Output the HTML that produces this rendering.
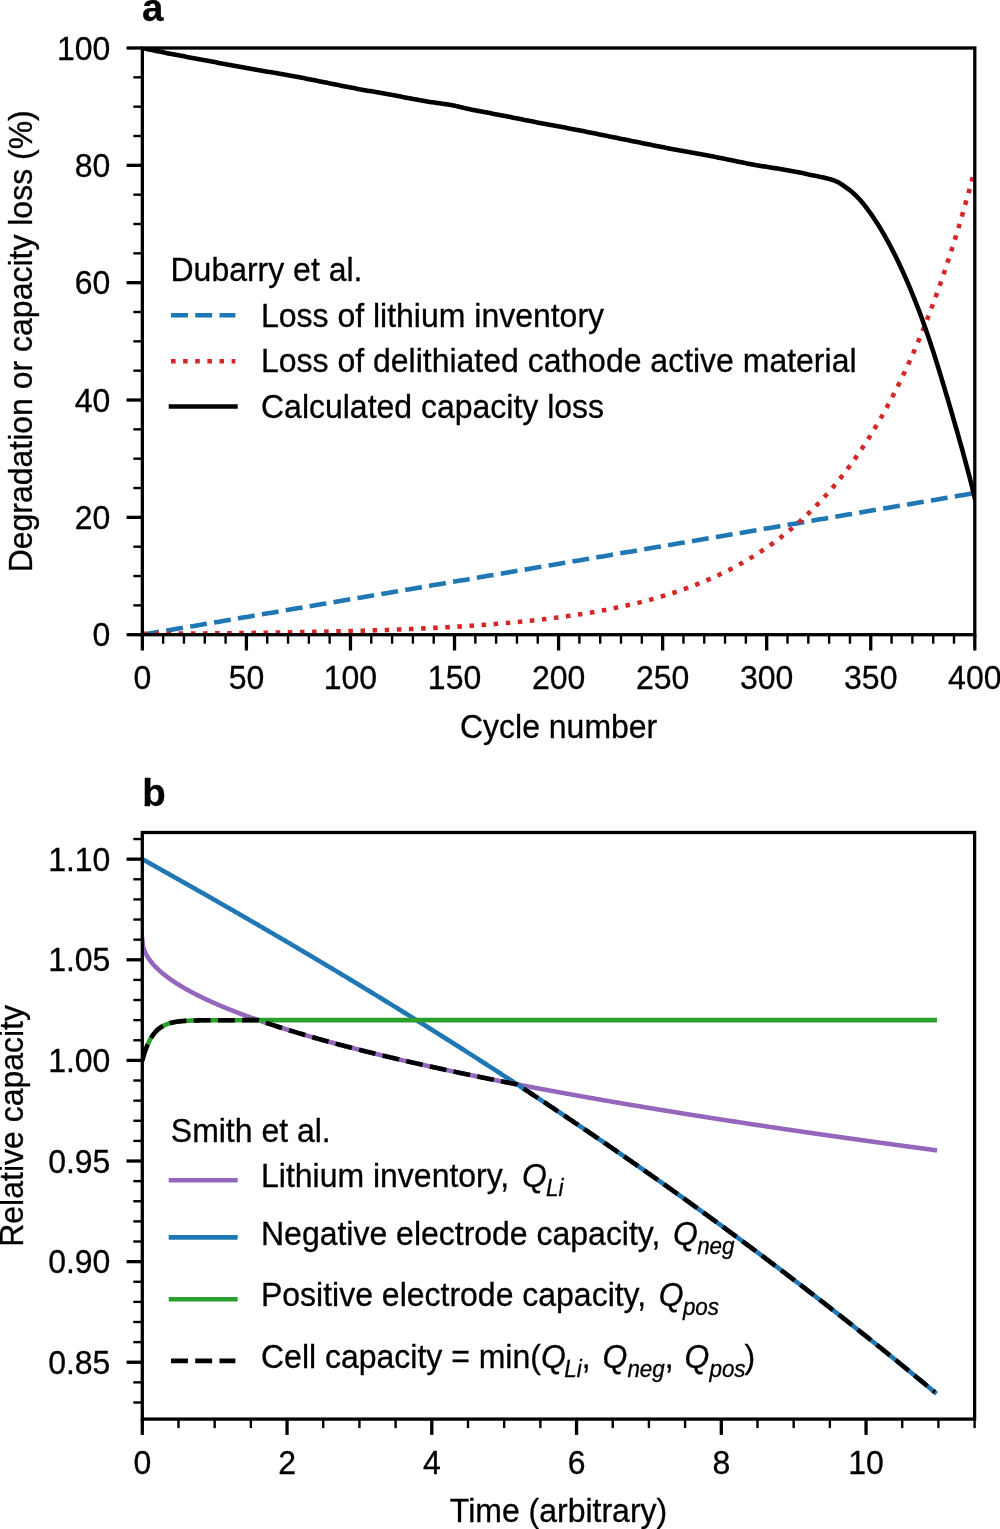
<!DOCTYPE html><html><head><meta charset="utf-8"><style>html,body{margin:0;padding:0;background:#fff;}svg{display:block;}text{font-family:"Liberation Sans",Arial,sans-serif;fill:#000;stroke:#000;stroke-width:0.3px;}</style></head><body>
<svg width="1000" height="1529" viewBox="0 0 1000 1529">
<rect width="1000" height="1529" fill="#fff"/>
<defs><clipPath id="ca"><rect x="142.35" y="48.00" width="832.45" height="586.70"/></clipPath>
<clipPath id="cb"><rect x="142.30" y="832.50" width="832.30" height="586.60"/></clipPath></defs>
<g clip-path="url(#ca)" fill="none" stroke-width="4.57">
<path d="M142.35 634.70L146.53 633.99L150.72 633.28L154.90 632.56L159.08 631.85L163.27 631.14L167.45 630.43L171.63 629.72L175.82 629.00L180.00 628.29L184.18 627.58L188.36 626.87L192.55 626.16L196.73 625.44L200.91 624.73L205.10 624.02L209.28 623.31L213.46 622.60L217.65 621.88L221.83 621.17L226.01 620.46L230.20 619.75L234.38 619.04L238.56 618.32L242.75 617.61L246.93 616.90L251.11 616.19L255.30 615.48L259.48 614.76L263.66 614.05L267.84 613.34L272.03 612.63L276.21 611.92L280.39 611.20L284.58 610.49L288.76 609.78L292.94 609.07L297.13 608.36L301.31 607.64L305.49 606.93L309.68 606.22L313.86 605.51L318.04 604.80L322.23 604.08L326.41 603.37L330.59 602.66L334.78 601.95L338.96 601.24L343.14 600.52L347.33 599.81L351.51 599.10L355.69 598.39L359.87 597.68L364.06 596.96L368.24 596.25L372.42 595.54L376.61 594.83L380.79 594.12L384.97 593.40L389.16 592.69L393.34 591.98L397.52 591.27L401.71 590.56L405.89 589.84L410.07 589.13L414.26 588.42L418.44 587.71L422.62 587.00L426.81 586.28L430.99 585.57L435.17 584.86L439.35 584.15L443.54 583.44L447.72 582.72L451.90 582.01L456.09 581.30L460.27 580.59L464.45 579.88L468.64 579.16L472.82 578.45L477.00 577.74L481.19 577.03L485.37 576.32L489.55 575.60L493.74 574.89L497.92 574.18L502.10 573.47L506.29 572.76L510.47 572.04L514.65 571.33L518.83 570.62L523.02 569.91L527.20 569.20L531.38 568.48L535.57 567.77L539.75 567.06L543.93 566.35L548.12 565.64L552.30 564.92L556.48 564.21L560.67 563.50L564.85 562.79L569.03 562.08L573.22 561.36L577.40 560.65L581.58 559.94L585.77 559.23L589.95 558.52L594.13 557.80L598.32 557.09L602.50 556.38L606.68 555.67L610.86 554.96L615.05 554.24L619.23 553.53L623.41 552.82L627.60 552.11L631.78 551.40L635.96 550.68L640.15 549.97L644.33 549.26L648.51 548.55L652.70 547.84L656.88 547.12L661.06 546.41L665.25 545.70L669.43 544.99L673.61 544.28L677.80 543.56L681.98 542.85L686.16 542.14L690.34 541.43L694.53 540.72L698.71 540.00L702.89 539.29L707.08 538.58L711.26 537.87L715.44 537.16L719.63 536.44L723.81 535.73L727.99 535.02L732.18 534.31L736.36 533.60L740.54 532.88L744.73 532.17L748.91 531.46L753.09 530.75L757.28 530.04L761.46 529.32L765.64 528.61L769.82 527.90L774.01 527.19L778.19 526.48L782.37 525.76L786.56 525.05L790.74 524.34L794.92 523.63L799.11 522.92L803.29 522.20L807.47 521.49L811.66 520.78L815.84 520.07L820.02 519.36L824.21 518.64L828.39 517.93L832.57 517.22L836.76 516.51L840.94 515.80L845.12 515.08L849.31 514.37L853.49 513.66L857.67 512.95L861.85 512.24L866.04 511.52L870.22 510.81L874.40 510.10L878.59 509.39L882.77 508.68L886.95 507.96L891.14 507.25L895.32 506.54L899.50 505.83L903.69 505.12L907.87 504.40L912.05 503.69L916.24 502.98L920.42 502.27L924.60 501.56L928.79 500.84L932.97 500.13L937.15 499.42L941.33 498.71L945.52 498.00L949.70 497.28L953.88 496.57L958.07 495.86L962.25 495.15L966.43 494.44L970.62 493.72L974.80 493.01" stroke="#1f77b4" stroke-dasharray="16.92 7.32"/>
<path d="M142.35 633.88L144.44 633.86L146.52 633.85L148.61 633.84L150.70 633.83L152.78 633.81L154.87 633.80L156.95 633.79L159.04 633.77L161.13 633.76L163.21 633.75L165.30 633.73L167.39 633.72L169.47 633.70L171.56 633.69L173.65 633.67L175.73 633.66L177.82 633.64L179.90 633.63L181.99 633.61L184.08 633.60L186.16 633.58L188.25 633.56L190.34 633.54L192.42 633.53L194.51 633.51L196.59 633.49L198.68 633.47L200.77 633.46L202.85 633.44L204.94 633.42L207.03 633.40L209.11 633.38L211.20 633.36L213.29 633.34L215.37 633.32L217.46 633.30L219.54 633.28L221.63 633.26L223.72 633.23L225.80 633.21L227.89 633.19L229.98 633.17L232.06 633.14L234.15 633.12L236.24 633.10L238.32 633.07L240.41 633.05L242.49 633.02L244.58 633.00L246.67 632.97L248.75 632.95L250.84 632.92L252.93 632.89L255.01 632.87L257.10 632.84L259.19 632.81L261.27 632.78L263.36 632.75L265.44 632.72L267.53 632.69L269.62 632.66L271.70 632.63L273.79 632.60L275.88 632.57L277.96 632.54L280.05 632.50L282.13 632.47L284.22 632.44L286.31 632.40L288.39 632.37L290.48 632.33L292.57 632.30L294.65 632.26L296.74 632.22L298.83 632.18L300.91 632.15L303.00 632.11L305.08 632.07L307.17 632.03L309.26 631.99L311.34 631.95L313.43 631.90L315.52 631.86L317.60 631.82L319.69 631.77L321.78 631.73L323.86 631.68L325.95 631.64L328.03 631.59L330.12 631.54L332.21 631.49L334.29 631.44L336.38 631.39L338.47 631.34L340.55 631.29L342.64 631.24L344.73 631.19L346.81 631.13L348.90 631.08L350.98 631.02L353.07 630.97L355.16 630.91L357.24 630.85L359.33 630.79L361.42 630.73L363.50 630.67L365.59 630.61L367.67 630.54L369.76 630.48L371.85 630.41L373.93 630.35L376.02 630.28L378.11 630.21L380.19 630.14L382.28 630.07L384.37 630.00L386.45 629.93L388.54 629.85L390.62 629.78L392.71 629.70L394.80 629.62L396.88 629.55L398.97 629.47L401.06 629.38L403.14 629.30L405.23 629.22L407.32 629.13L409.40 629.05L411.49 628.96L413.57 628.87L415.66 628.78L417.75 628.69L419.83 628.59L421.92 628.50L424.01 628.40L426.09 628.30L428.18 628.20L430.27 628.10L432.35 628.00L434.44 627.89L436.52 627.79L438.61 627.68L440.70 627.57L442.78 627.46L444.87 627.34L446.96 627.23L449.04 627.11L451.13 626.99L453.21 626.87L455.30 626.75L457.39 626.62L459.47 626.49L461.56 626.37L463.65 626.23L465.73 626.10L467.82 625.97L469.91 625.83L471.99 625.69L474.08 625.55L476.16 625.40L478.25 625.26L480.34 625.11L482.42 624.96L484.51 624.80L486.60 624.65L488.68 624.49L490.77 624.33L492.86 624.16L494.94 623.99L497.03 623.83L499.11 623.65L501.20 623.48L503.29 623.30L505.37 623.12L507.46 622.94L509.55 622.75L511.63 622.56L513.72 622.37L515.81 622.17L517.89 621.97L519.98 621.77L522.06 621.56L524.15 621.36L526.24 621.14L528.32 620.93L530.41 620.71L532.50 620.49L534.58 620.26L536.67 620.03L538.75 619.79L540.84 619.56L542.93 619.32L545.01 619.07L547.10 618.82L549.19 618.57L551.27 618.31L553.36 618.05L555.45 617.78L557.53 617.51L559.62 617.23L561.70 616.95L563.79 616.67L565.88 616.38L567.96 616.09L570.05 615.79L572.14 615.48L574.22 615.18L576.31 614.86L578.40 614.54L580.48 614.22L582.57 613.89L584.65 613.56L586.74 613.22L588.83 612.87L590.91 612.52L593.00 612.16L595.09 611.80L597.17 611.43L599.26 611.05L601.34 610.67L603.43 610.28L605.52 609.89L607.60 609.49L609.69 609.08L611.78 608.67L613.86 608.25L615.95 607.82L618.04 607.38L620.12 606.94L622.21 606.49L624.29 606.04L626.38 605.57L628.47 605.10L630.55 604.62L632.64 604.13L634.73 603.63L636.81 603.13L638.90 602.62L640.99 602.10L643.07 601.57L645.16 601.03L647.24 600.48L649.33 599.92L651.42 599.36L653.50 598.78L655.59 598.19L657.68 597.60L659.76 596.99L661.85 596.38L663.94 595.75L666.02 595.12L668.11 594.47L670.19 593.81L672.28 593.15L674.37 592.47L676.45 591.78L678.54 591.07L680.63 590.36L682.71 589.63L684.80 588.89L686.88 588.14L688.97 587.38L691.06 586.60L693.14 585.82L695.23 585.01L697.32 584.20L699.40 583.37L701.49 582.52L703.58 581.67L705.66 580.79L707.75 579.91L709.83 579.01L711.92 578.09L714.01 577.16L716.09 576.21L718.18 575.25L720.27 574.27L722.35 573.27L724.44 572.25L726.53 571.22L728.61 570.18L730.70 569.11L732.78 568.03L734.87 566.92L736.96 565.80L739.04 564.66L741.13 563.50L743.22 562.33L745.30 561.13L747.39 559.91L749.48 558.67L751.56 557.41L753.65 556.13L755.73 554.82L757.82 553.50L759.91 552.15L761.99 550.78L764.08 549.38L766.17 547.96L768.25 546.52L770.34 545.05L772.42 543.56L774.51 542.05L776.60 540.50L778.68 538.93L780.77 537.34L782.86 535.71L784.94 534.06L787.03 532.38L789.12 530.67L791.20 528.94L793.29 527.17L795.37 525.37L797.46 523.55L799.55 521.69L801.63 519.80L803.72 517.87L805.81 515.92L807.89 513.93L809.98 511.91L812.07 509.85L814.15 507.75L816.24 505.62L818.32 503.46L820.41 501.26L822.50 499.02L824.58 496.74L826.67 494.42L828.76 492.06L830.84 489.66L832.93 487.22L835.02 484.74L837.10 482.21L839.19 479.65L841.27 477.03L843.36 474.38L845.45 471.67L847.53 468.92L849.62 466.13L851.71 463.28L853.79 460.39L855.88 457.44L857.96 454.45L860.05 451.40L862.14 448.30L864.22 445.15L866.31 441.94L868.40 438.68L870.48 435.36L872.57 431.98L874.66 428.55L876.74 425.05L878.83 421.50L880.91 417.88L883.00 414.20L885.09 410.46L887.17 406.65L889.26 402.77L891.35 398.83L893.43 394.82L895.52 390.74L897.61 386.59L899.69 382.37L901.78 378.07L903.86 373.70L905.95 369.25L908.04 364.72L910.12 360.12L912.21 355.44L914.30 350.67L916.38 345.82L918.47 340.89L920.56 335.87L922.64 330.76L924.73 325.57L926.81 320.28L928.90 314.90L930.99 309.43L933.07 303.86L935.16 298.19L937.25 292.43L939.33 286.56L941.42 280.59L943.50 274.52L945.59 268.34L947.68 262.05L949.76 255.65L951.85 249.14L953.94 242.52L956.02 235.77L958.11 228.91L960.20 221.93L962.28 214.83L964.37 207.60L966.45 200.25L968.54 192.77L970.63 185.15L972.71 177.40L974.80 169.51" stroke="#d62728" stroke-dasharray="4.57 7.55"/>
<path d="M142.35 48.00L143.74 48.30L145.13 48.60L146.52 48.89L147.91 49.19L149.30 49.48L150.69 49.77L152.08 50.07L153.47 50.36L154.86 50.64L156.25 50.93L157.64 51.22L159.03 51.50L160.42 51.78L161.81 52.06L163.20 52.34L164.59 52.62L165.98 52.89L167.37 53.16L168.75 53.44L170.14 53.71L171.53 53.98L172.92 54.24L174.31 54.51L175.70 54.78L177.09 55.04L178.48 55.31L179.87 55.57L181.26 55.84L182.65 56.10L184.04 56.36L185.43 56.62L186.82 56.89L188.21 57.15L189.60 57.41L190.99 57.67L192.38 57.94L193.77 58.20L195.16 58.46L196.55 58.72L197.94 58.99L199.33 59.25L200.72 59.51L202.11 59.77L203.50 60.03L204.89 60.29L206.28 60.55L207.67 60.81L209.06 61.07L210.45 61.33L211.84 61.59L213.23 61.85L214.62 62.11L216.01 62.37L217.40 62.63L218.79 62.89L220.18 63.15L221.56 63.40L222.95 63.66L224.34 63.92L225.73 64.18L227.12 64.43L228.51 64.69L229.90 64.94L231.29 65.20L232.68 65.45L234.07 65.71L235.46 65.96L236.85 66.22L238.24 66.47L239.63 66.72L241.02 66.98L242.41 67.23L243.80 67.48L245.19 67.73L246.58 67.98L247.97 68.23L249.36 68.48L250.75 68.73L252.14 68.98L253.53 69.23L254.92 69.47L256.31 69.72L257.70 69.96L259.09 70.20L260.48 70.44L261.87 70.68L263.26 70.92L264.65 71.16L266.04 71.40L267.43 71.64L268.82 71.88L270.21 72.12L271.60 72.35L272.98 72.59L274.37 72.83L275.76 73.07L277.15 73.31L278.54 73.55L279.93 73.79L281.32 74.03L282.71 74.27L284.10 74.52L285.49 74.76L286.88 75.01L288.27 75.26L289.66 75.51L291.05 75.76L292.44 76.01L293.83 76.27L295.22 76.53L296.61 76.79L298.00 77.05L299.39 77.31L300.78 77.58L302.17 77.84L303.56 78.11L304.95 78.38L306.34 78.65L307.73 78.93L309.12 79.20L310.51 79.48L311.90 79.75L313.29 80.03L314.68 80.31L316.07 80.59L317.46 80.87L318.85 81.15L320.24 81.43L321.63 81.71L323.02 82.00L324.41 82.28L325.79 82.56L327.18 82.84L328.57 83.13L329.96 83.41L331.35 83.69L332.74 83.97L334.13 84.25L335.52 84.54L336.91 84.82L338.30 85.10L339.69 85.37L341.08 85.65L342.47 85.93L343.86 86.21L345.25 86.48L346.64 86.75L348.03 87.03L349.42 87.30L350.81 87.57L352.20 87.83L353.59 88.10L354.98 88.36L356.37 88.63L357.76 88.89L359.15 89.14L360.54 89.40L361.93 89.65L363.32 89.90L364.71 90.15L366.10 90.39L367.49 90.64L368.88 90.88L370.27 91.12L371.66 91.36L373.05 91.60L374.44 91.83L375.83 92.07L377.21 92.31L378.60 92.55L379.99 92.79L381.38 93.03L382.77 93.27L384.16 93.51L385.55 93.76L386.94 94.00L388.33 94.25L389.72 94.50L391.11 94.76L392.50 95.02L393.89 95.28L395.28 95.54L396.67 95.81L398.06 96.07L399.45 96.34L400.84 96.61L402.23 96.88L403.62 97.15L405.01 97.42L406.40 97.69L407.79 97.96L409.18 98.23L410.57 98.50L411.96 98.76L413.35 99.03L414.74 99.29L416.13 99.55L417.52 99.81L418.91 100.06L420.30 100.31L421.69 100.56L423.08 100.80L424.47 101.04L425.86 101.28L427.25 101.50L428.63 101.72L430.02 101.94L431.41 102.14L432.80 102.34L434.19 102.54L435.58 102.74L436.97 102.93L438.36 103.12L439.75 103.32L441.14 103.51L442.53 103.71L443.92 103.92L445.31 104.12L446.70 104.34L448.09 104.56L449.48 104.79L450.87 105.03L452.26 105.27L453.65 105.54L455.04 105.82L456.43 106.13L457.82 106.44L459.21 106.77L460.60 107.10L461.99 107.44L463.38 107.77L464.77 108.11L466.16 108.44L467.55 108.76L468.94 109.07L470.33 109.37L471.72 109.66L473.11 109.94L474.50 110.22L475.89 110.49L477.28 110.76L478.67 111.03L480.06 111.30L481.44 111.56L482.83 111.83L484.22 112.09L485.61 112.34L487.00 112.60L488.39 112.86L489.78 113.11L491.17 113.37L492.56 113.63L493.95 113.88L495.34 114.14L496.73 114.40L498.12 114.66L499.51 114.93L500.90 115.19L502.29 115.46L503.68 115.73L505.07 116.01L506.46 116.28L507.85 116.56L509.24 116.83L510.63 117.11L512.02 117.39L513.41 117.67L514.80 117.95L516.19 118.23L517.58 118.51L518.97 118.80L520.36 119.08L521.75 119.36L523.14 119.64L524.53 119.92L525.92 120.20L527.31 120.48L528.70 120.76L530.09 121.04L531.48 121.31L532.86 121.59L534.25 121.86L535.64 122.13L537.03 122.40L538.42 122.67L539.81 122.94L541.20 123.20L542.59 123.47L543.98 123.73L545.37 123.99L546.76 124.25L548.15 124.51L549.54 124.77L550.93 125.03L552.32 125.29L553.71 125.55L555.10 125.81L556.49 126.07L557.88 126.32L559.27 126.58L560.66 126.84L562.05 127.10L563.44 127.36L564.83 127.62L566.22 127.87L567.61 128.13L569.00 128.40L570.39 128.66L571.78 128.92L573.17 129.18L574.56 129.45L575.95 129.72L577.34 129.98L578.73 130.25L580.12 130.52L581.51 130.79L582.90 131.07L584.29 131.34L585.67 131.62L587.06 131.89L588.45 132.17L589.84 132.45L591.23 132.73L592.62 133.01L594.01 133.29L595.40 133.57L596.79 133.86L598.18 134.14L599.57 134.42L600.96 134.71L602.35 134.99L603.74 135.27L605.13 135.56L606.52 135.84L607.91 136.13L609.30 136.41L610.69 136.70L612.08 136.98L613.47 137.26L614.86 137.55L616.25 137.83L617.64 138.11L619.03 138.40L620.42 138.68L621.81 138.96L623.20 139.24L624.59 139.52L625.98 139.80L627.37 140.08L628.76 140.36L630.15 140.64L631.54 140.92L632.93 141.20L634.32 141.49L635.71 141.77L637.09 142.05L638.48 142.33L639.87 142.61L641.26 142.89L642.65 143.18L644.04 143.46L645.43 143.74L646.82 144.02L648.21 144.30L649.60 144.58L650.99 144.86L652.38 145.13L653.77 145.41L655.16 145.69L656.55 145.96L657.94 146.24L659.33 146.51L660.72 146.79L662.11 147.06L663.50 147.33L664.89 147.60L666.28 147.87L667.67 148.14L669.06 148.40L670.45 148.67L671.84 148.93L673.23 149.19L674.62 149.45L676.01 149.71L677.40 149.96L678.79 150.22L680.18 150.47L681.57 150.72L682.96 150.98L684.35 151.23L685.74 151.48L687.13 151.73L688.52 151.98L689.90 152.23L691.29 152.48L692.68 152.73L694.07 152.98L695.46 153.24L696.85 153.49L698.24 153.74L699.63 153.99L701.02 154.25L702.41 154.50L703.80 154.76L705.19 155.02L706.58 155.28L707.97 155.54L709.36 155.80L710.75 156.06L712.14 156.33L713.53 156.60L714.92 156.87L716.31 157.14L717.70 157.42L719.09 157.70L720.48 157.98L721.87 158.26L723.26 158.55L724.65 158.83L726.04 159.12L727.43 159.41L728.82 159.70L730.21 159.99L731.60 160.28L732.99 160.57L734.38 160.86L735.77 161.14L737.16 161.43L738.55 161.72L739.94 162.00L741.32 162.28L742.71 162.57L744.10 162.84L745.49 163.12L746.88 163.39L748.27 163.66L749.66 163.93L751.05 164.19L752.44 164.45L753.83 164.71L755.22 164.96L756.61 165.21L758.00 165.45L759.39 165.69L760.78 165.92L762.17 166.15L763.56 166.37L764.95 166.59L766.34 166.81L767.73 167.03L769.12 167.25L770.51 167.47L771.90 167.69L773.29 167.91L774.68 168.13L776.07 168.35L777.46 168.58L778.85 168.81L780.24 169.04L781.63 169.27L783.02 169.50L784.41 169.73L785.80 169.96L787.19 170.19L788.58 170.43L789.97 170.66L791.36 170.90L792.74 171.14L794.13 171.39L795.52 171.64L796.91 171.90L798.30 172.16L799.69 172.44L801.08 172.73L802.47 173.04L803.86 173.36L805.25 173.70L806.64 174.03L808.03 174.36L809.42 174.67L810.81 174.97L812.20 175.25L813.59 175.52L814.98 175.79L816.37 176.06L817.76 176.33L819.15 176.62L820.54 176.92L821.93 177.22L823.32 177.52L824.71 177.84L826.10 178.16L827.49 178.51L828.88 178.88L830.27 179.28L831.66 179.71L833.05 180.17L834.44 180.68L835.83 181.23L837.22 181.83L838.61 182.51L840.00 183.31L841.39 184.23L842.78 185.21L844.17 186.21L845.55 187.19L846.94 188.16L848.33 189.15L849.72 190.18L851.11 191.27L852.50 192.43L853.89 193.67L855.28 194.98L856.67 196.35L858.06 197.79L859.45 199.28L860.84 200.83L862.23 202.46L863.62 204.17L865.01 205.93L866.40 207.75L867.79 209.61L869.18 211.51L870.57 213.44L871.96 215.42L873.35 217.45L874.74 219.53L876.13 221.66L877.52 223.84L878.91 226.06L880.30 228.31L881.69 230.62L883.08 232.99L884.47 235.40L885.86 237.87L887.25 240.37L888.64 242.92L890.03 245.50L891.42 248.13L892.81 250.83L894.20 253.57L895.59 256.37L896.97 259.20L898.36 262.09L899.75 265.02L901.14 268.00L902.53 271.03L903.92 274.10L905.31 277.23L906.70 280.41L908.09 283.63L909.48 286.91L910.87 290.23L912.26 293.61L913.65 297.04L915.04 300.53L916.43 304.08L917.82 307.68L919.21 311.34L920.60 315.06L921.99 318.83L923.38 322.66L924.77 326.56L926.16 330.52L927.55 334.54L928.94 338.63L930.33 342.78L931.72 347.00L933.11 351.27L934.50 355.61L935.89 360.02L937.28 364.48L938.67 368.98L940.06 373.53L941.45 378.11L942.84 382.73L944.23 387.38L945.62 392.06L947.01 396.76L948.40 401.47L949.78 406.20L951.17 410.94L952.56 415.72L953.95 420.52L955.34 425.34L956.73 430.19L958.12 435.08L959.51 440.01L960.90 444.97L962.29 449.98L963.68 455.04L965.07 460.16L966.46 465.35L967.85 470.59L969.24 475.90L970.63 481.29L972.02 486.77L973.41 492.32L974.80 497.97" stroke="#000" stroke-linejoin="round" stroke-linecap="square"/>
</g>
<g clip-path="url(#cb)" fill="none" stroke-width="4.57" stroke-linecap="square" stroke-linejoin="round">
<path d="M142.30 939.66L143.09 946.32L143.89 949.07L144.68 951.19L145.47 952.97L146.27 954.54L147.06 955.97L147.85 957.27L148.65 958.49L149.44 959.63L150.23 960.71L151.03 961.74L151.82 962.72L152.61 963.66L153.41 964.57L154.20 965.44L154.99 966.29L155.79 967.11L156.58 967.90L157.37 968.68L158.17 969.43L158.96 970.17L159.75 970.88L160.55 971.59L161.34 972.27L162.13 972.95L162.93 973.60L163.72 974.25L164.51 974.89L165.31 975.51L166.10 976.12L166.89 976.73L167.69 977.32L168.48 977.90L169.27 978.48L170.07 979.04L170.86 979.60L171.65 980.15L172.44 980.70L173.24 981.23L174.03 981.76L174.82 982.29L175.62 982.80L176.41 983.31L177.20 983.82L178.00 984.32L178.79 984.81L179.58 985.30L180.38 985.78L181.17 986.26L181.96 986.73L182.76 987.20L183.55 987.67L184.34 988.13L185.14 988.58L185.93 989.03L186.72 989.48L187.52 989.92L188.31 990.36L189.10 990.80L189.90 991.23L190.69 991.65L191.48 992.08L192.28 992.50L193.07 992.92L193.86 993.33L194.66 993.74L195.45 994.15L196.24 994.56L197.04 994.96L197.83 995.36L198.62 995.76L199.42 996.15L200.21 996.54L201.00 996.93L201.80 997.31L202.59 997.70L203.38 998.08L204.18 998.46L204.97 998.83L205.76 999.20L206.56 999.58L207.35 999.94L208.14 1000.31L208.94 1000.68L209.73 1001.04L210.52 1001.40L211.32 1001.76L212.11 1002.11L212.90 1002.46L213.70 1002.82L214.49 1003.17L215.28 1003.51L216.08 1003.86L216.87 1004.21L217.66 1004.55L218.46 1004.89L219.25 1005.23L220.04 1005.56L220.84 1005.90L221.63 1006.23L222.42 1006.57L223.22 1006.90L224.01 1007.22L224.80 1007.55L225.60 1007.88L226.39 1008.20L227.18 1008.52L227.98 1008.84L228.77 1009.16L229.56 1009.48L230.35 1009.80L231.15 1010.11L231.94 1010.43L232.73 1010.74L233.53 1011.05L234.32 1011.36L235.11 1011.67L235.91 1011.98L236.70 1012.28L237.49 1012.59L238.29 1012.89L239.08 1013.19L239.87 1013.49L240.67 1013.79L241.46 1014.09L242.25 1014.39L243.05 1014.68L243.84 1014.98L244.63 1015.27L245.43 1015.57L246.22 1015.86L247.01 1016.15L247.81 1016.44L248.60 1016.72L249.39 1017.01L250.19 1017.30L250.98 1017.58L251.77 1017.87L252.57 1018.15L253.36 1018.43L254.15 1018.71L254.95 1018.99L255.74 1019.27L256.53 1019.55L257.33 1019.83L258.12 1020.10L258.91 1020.38L259.71 1020.65L260.50 1020.92L261.29 1021.20L262.09 1021.47L262.88 1021.74L263.67 1022.01L264.47 1022.28L265.26 1022.54L266.05 1022.81L266.85 1023.08L267.64 1023.34L268.43 1023.61L269.23 1023.87L270.02 1024.13L270.81 1024.39L271.61 1024.66L272.40 1024.92L273.19 1025.18L273.99 1025.43L274.78 1025.69L275.57 1025.95L276.37 1026.21L277.16 1026.46L277.95 1026.72L278.75 1026.97L279.54 1027.22L280.33 1027.48L281.13 1027.73L281.92 1027.98L282.71 1028.23L283.51 1028.48L284.30 1028.73L285.09 1028.98L285.89 1029.23L286.68 1029.47L287.47 1029.72L288.26 1029.97L289.06 1030.21L289.85 1030.45L290.64 1030.70L291.44 1030.94L292.23 1031.18L293.02 1031.43L293.82 1031.67L294.61 1031.91L295.40 1032.15L296.20 1032.39L296.99 1032.63L297.78 1032.86L298.58 1033.10L299.37 1033.34L300.16 1033.57L300.96 1033.81L301.75 1034.04L302.54 1034.28L303.34 1034.51L304.13 1034.75L304.92 1034.98L305.72 1035.21L306.51 1035.44L307.30 1035.67L308.10 1035.90L308.89 1036.13L309.68 1036.36L310.48 1036.59L311.27 1036.82L312.06 1037.05L312.86 1037.28L313.65 1037.50L314.44 1037.73L315.24 1037.96L316.03 1038.18L316.82 1038.41L317.62 1038.63L318.41 1038.85L319.20 1039.08L320.00 1039.30L320.79 1039.52L321.58 1039.74L322.38 1039.96L323.17 1040.18L323.96 1040.40L324.76 1040.62L325.55 1040.84L326.34 1041.06L327.14 1041.28L327.93 1041.50L328.72 1041.72L329.52 1041.93L330.31 1042.15L331.10 1042.37L331.90 1042.58L332.69 1042.80L333.48 1043.01L334.28 1043.22L335.07 1043.44L335.86 1043.65L336.66 1043.86L337.45 1044.08L338.24 1044.29L339.04 1044.50L339.83 1044.71L340.62 1044.92L341.42 1045.13L342.21 1045.34L343.00 1045.55L343.80 1045.76L344.59 1045.97L345.38 1046.18L346.17 1046.39L346.97 1046.59L347.76 1046.80L348.55 1047.01L349.35 1047.21L350.14 1047.42L350.93 1047.63L351.73 1047.83L352.52 1048.03L353.31 1048.24L354.11 1048.44L354.90 1048.65L355.69 1048.85L356.49 1049.05L357.28 1049.25L358.07 1049.46L358.87 1049.66L359.66 1049.86L360.45 1050.06L361.25 1050.26L362.04 1050.46L362.83 1050.66L363.63 1050.86L364.42 1051.06L365.21 1051.26L366.01 1051.46L366.80 1051.66L367.59 1051.85L368.39 1052.05L369.18 1052.25L369.97 1052.44L370.77 1052.64L371.56 1052.84L372.35 1053.03L373.15 1053.23L373.94 1053.42L374.73 1053.62L375.53 1053.81L376.32 1054.00L377.11 1054.20L377.91 1054.39L378.70 1054.58L379.49 1054.78L380.29 1054.97L381.08 1055.16L381.87 1055.35L382.67 1055.55L383.46 1055.74L384.25 1055.93L385.05 1056.12L385.84 1056.31L386.63 1056.50L387.43 1056.69L388.22 1056.88L389.01 1057.06L389.81 1057.25L390.60 1057.44L391.39 1057.63L392.19 1057.82L392.98 1058.00L393.77 1058.19L394.57 1058.38L395.36 1058.57L396.15 1058.75L396.95 1058.94L397.74 1059.12L398.53 1059.31L399.33 1059.49L400.12 1059.68L400.91 1059.86L401.71 1060.05L402.50 1060.23L403.29 1060.41L404.08 1060.60L404.88 1060.78L405.67 1060.96L406.46 1061.15L407.26 1061.33L408.05 1061.51L408.84 1061.69L409.64 1061.87L410.43 1062.06L411.22 1062.24L412.02 1062.42L412.81 1062.60L413.60 1062.78L414.40 1062.96L415.19 1063.14L415.98 1063.32L416.78 1063.50L417.57 1063.67L418.36 1063.85L419.16 1064.03L419.95 1064.21L420.74 1064.39L421.54 1064.56L422.33 1064.74L423.12 1064.92L423.92 1065.10L424.71 1065.27L425.50 1065.45L426.30 1065.62L427.09 1065.80L427.88 1065.98L428.68 1066.15L429.47 1066.33L430.26 1066.50L431.06 1066.68L431.85 1066.85L432.64 1067.02L433.44 1067.20L434.23 1067.37L435.02 1067.55L435.82 1067.72L436.61 1067.89L437.40 1068.06L438.20 1068.24L438.99 1068.41L439.78 1068.58L440.58 1068.75L441.37 1068.92L442.16 1069.10L442.96 1069.27L443.75 1069.44L444.54 1069.61L445.34 1069.78L446.13 1069.95L446.92 1070.12L447.72 1070.29L448.51 1070.46L449.30 1070.63L450.10 1070.80L450.89 1070.97L451.68 1071.13L452.48 1071.30L453.27 1071.47L454.06 1071.64L454.86 1071.81L455.65 1071.97L456.44 1072.14L457.24 1072.31L458.03 1072.48L458.82 1072.64L459.62 1072.81L460.41 1072.98L461.20 1073.14L461.99 1073.31L462.79 1073.47L463.58 1073.64L464.37 1073.80L465.17 1073.97L465.96 1074.13L466.75 1074.30L467.55 1074.46L468.34 1074.63L469.13 1074.79L469.93 1074.96L470.72 1075.12L471.51 1075.28L472.31 1075.45L473.10 1075.61L473.89 1075.77L474.69 1075.93L475.48 1076.10L476.27 1076.26L477.07 1076.42L477.86 1076.58L478.65 1076.75L479.45 1076.91L480.24 1077.07L481.03 1077.23L481.83 1077.39L482.62 1077.55L483.41 1077.71L484.21 1077.87L485.00 1078.03L485.79 1078.19L486.59 1078.35L487.38 1078.51L488.17 1078.67L488.97 1078.83L489.76 1078.99L490.55 1079.15L491.35 1079.31L492.14 1079.47L492.93 1079.62L493.73 1079.78L494.52 1079.94L495.31 1080.10L496.11 1080.26L496.90 1080.41L497.69 1080.57L498.49 1080.73L499.28 1080.89L500.07 1081.04L500.87 1081.20L501.66 1081.36L502.45 1081.51L503.25 1081.67L504.04 1081.82L504.83 1081.98L505.63 1082.14L506.42 1082.29L507.21 1082.45L508.01 1082.60L508.80 1082.76L509.59 1082.91L510.39 1083.07L511.18 1083.22L511.97 1083.37L512.77 1083.53L513.56 1083.68L514.35 1083.84L515.15 1083.99L515.94 1084.14L516.73 1084.30L517.53 1084.45L518.32 1084.60L519.11 1084.76L519.90 1084.91L520.70 1085.06L521.49 1085.21L522.28 1085.37L523.08 1085.52L523.87 1085.67L524.66 1085.82L525.46 1085.97L526.25 1086.12L527.04 1086.28L527.84 1086.43L528.63 1086.58L529.42 1086.73L530.22 1086.88L531.01 1087.03L531.80 1087.18L532.60 1087.33L533.39 1087.48L534.18 1087.63L534.98 1087.78L535.77 1087.93L536.56 1088.08L537.36 1088.23L538.15 1088.38L538.94 1088.53L539.74 1088.67L540.53 1088.82L541.32 1088.97L542.12 1089.12L542.91 1089.27L543.70 1089.42L544.50 1089.56L545.29 1089.71L546.08 1089.86L546.88 1090.01L547.67 1090.15L548.46 1090.30L549.26 1090.45L550.05 1090.59L550.84 1090.74L551.64 1090.89L552.43 1091.03L553.22 1091.18L554.02 1091.33L554.81 1091.47L555.60 1091.62L556.40 1091.76L557.19 1091.91L557.98 1092.06L558.78 1092.20L559.57 1092.35L560.36 1092.49L561.16 1092.64L561.95 1092.78L562.74 1092.93L563.54 1093.07L564.33 1093.22L565.12 1093.36L565.92 1093.50L566.71 1093.65L567.50 1093.79L568.30 1093.93L569.09 1094.08L569.88 1094.22L570.68 1094.37L571.47 1094.51L572.26 1094.65L573.06 1094.79L573.85 1094.94L574.64 1095.08L575.44 1095.22L576.23 1095.36L577.02 1095.51L577.81 1095.65L578.61 1095.79L579.40 1095.93L580.19 1096.07L580.99 1096.22L581.78 1096.36L582.57 1096.50L583.37 1096.64L584.16 1096.78L584.95 1096.92L585.75 1097.06L586.54 1097.20L587.33 1097.34L588.13 1097.49L588.92 1097.63L589.71 1097.77L590.51 1097.91L591.30 1098.05L592.09 1098.19L592.89 1098.33L593.68 1098.47L594.47 1098.60L595.27 1098.74L596.06 1098.88L596.85 1099.02L597.65 1099.16L598.44 1099.30L599.23 1099.44L600.03 1099.58L600.82 1099.72L601.61 1099.85L602.41 1099.99L603.20 1100.13L603.99 1100.27L604.79 1100.41L605.58 1100.54L606.37 1100.68L607.17 1100.82L607.96 1100.96L608.75 1101.09L609.55 1101.23L610.34 1101.37L611.13 1101.51L611.93 1101.64L612.72 1101.78L613.51 1101.92L614.31 1102.05L615.10 1102.19L615.89 1102.33L616.69 1102.46L617.48 1102.60L618.27 1102.73L619.07 1102.87L619.86 1103.01L620.65 1103.14L621.45 1103.28L622.24 1103.41L623.03 1103.55L623.83 1103.68L624.62 1103.82L625.41 1103.95L626.21 1104.09L627.00 1104.22L627.79 1104.36L628.59 1104.49L629.38 1104.63L630.17 1104.76L630.97 1104.89L631.76 1105.03L632.55 1105.16L633.35 1105.30L634.14 1105.43L634.93 1105.56L635.72 1105.70L636.52 1105.83L637.31 1105.96L638.10 1106.10L638.90 1106.23L639.69 1106.36L640.48 1106.50L641.28 1106.63L642.07 1106.76L642.86 1106.89L643.66 1107.03L644.45 1107.16L645.24 1107.29L646.04 1107.42L646.83 1107.55L647.62 1107.69L648.42 1107.82L649.21 1107.95L650.00 1108.08L650.80 1108.21L651.59 1108.34L652.38 1108.48L653.18 1108.61L653.97 1108.74L654.76 1108.87L655.56 1109.00L656.35 1109.13L657.14 1109.26L657.94 1109.39L658.73 1109.52L659.52 1109.65L660.32 1109.78L661.11 1109.91L661.90 1110.04L662.70 1110.17L663.49 1110.30L664.28 1110.43L665.08 1110.56L665.87 1110.69L666.66 1110.82L667.46 1110.95L668.25 1111.08L669.04 1111.21L669.84 1111.34L670.63 1111.47L671.42 1111.60L672.22 1111.73L673.01 1111.86L673.80 1111.98L674.60 1112.11L675.39 1112.24L676.18 1112.37L676.98 1112.50L677.77 1112.63L678.56 1112.75L679.36 1112.88L680.15 1113.01L680.94 1113.14L681.74 1113.27L682.53 1113.39L683.32 1113.52L684.12 1113.65L684.91 1113.78L685.70 1113.90L686.50 1114.03L687.29 1114.16L688.08 1114.28L688.88 1114.41L689.67 1114.54L690.46 1114.66L691.26 1114.79L692.05 1114.92L692.84 1115.04L693.63 1115.17L694.43 1115.30L695.22 1115.42L696.01 1115.55L696.81 1115.67L697.60 1115.80L698.39 1115.93L699.19 1116.05L699.98 1116.18L700.77 1116.30L701.57 1116.43L702.36 1116.55L703.15 1116.68L703.95 1116.80L704.74 1116.93L705.53 1117.05L706.33 1117.18L707.12 1117.30L707.91 1117.43L708.71 1117.55L709.50 1117.68L710.29 1117.80L711.09 1117.93L711.88 1118.05L712.67 1118.17L713.47 1118.30L714.26 1118.42L715.05 1118.55L715.85 1118.67L716.64 1118.79L717.43 1118.92L718.23 1119.04L719.02 1119.16L719.81 1119.29L720.61 1119.41L721.40 1119.53L722.19 1119.66L722.99 1119.78L723.78 1119.90L724.57 1120.03L725.37 1120.15L726.16 1120.27L726.95 1120.40L727.75 1120.52L728.54 1120.64L729.33 1120.76L730.13 1120.89L730.92 1121.01L731.71 1121.13L732.51 1121.25L733.30 1121.37L734.09 1121.50L734.89 1121.62L735.68 1121.74L736.47 1121.86L737.27 1121.98L738.06 1122.10L738.85 1122.23L739.65 1122.35L740.44 1122.47L741.23 1122.59L742.03 1122.71L742.82 1122.83L743.61 1122.95L744.41 1123.07L745.20 1123.19L745.99 1123.31L746.79 1123.44L747.58 1123.56L748.37 1123.68L749.17 1123.80L749.96 1123.92L750.75 1124.04L751.54 1124.16L752.34 1124.28L753.13 1124.40L753.92 1124.52L754.72 1124.64L755.51 1124.76L756.30 1124.88L757.10 1125.00L757.89 1125.12L758.68 1125.24L759.48 1125.35L760.27 1125.47L761.06 1125.59L761.86 1125.71L762.65 1125.83L763.44 1125.95L764.24 1126.07L765.03 1126.19L765.82 1126.31L766.62 1126.43L767.41 1126.54L768.20 1126.66L769.00 1126.78L769.79 1126.90L770.58 1127.02L771.38 1127.14L772.17 1127.25L772.96 1127.37L773.76 1127.49L774.55 1127.61L775.34 1127.73L776.14 1127.84L776.93 1127.96L777.72 1128.08L778.52 1128.20L779.31 1128.31L780.10 1128.43L780.90 1128.55L781.69 1128.67L782.48 1128.78L783.28 1128.90L784.07 1129.02L784.86 1129.14L785.66 1129.25L786.45 1129.37L787.24 1129.49L788.04 1129.60L788.83 1129.72L789.62 1129.84L790.42 1129.95L791.21 1130.07L792.00 1130.18L792.80 1130.30L793.59 1130.42L794.38 1130.53L795.18 1130.65L795.97 1130.77L796.76 1130.88L797.56 1131.00L798.35 1131.11L799.14 1131.23L799.94 1131.34L800.73 1131.46L801.52 1131.58L802.32 1131.69L803.11 1131.81L803.90 1131.92L804.70 1132.04L805.49 1132.15L806.28 1132.27L807.08 1132.38L807.87 1132.50L808.66 1132.61L809.45 1132.73L810.25 1132.84L811.04 1132.96L811.83 1133.07L812.63 1133.19L813.42 1133.30L814.21 1133.41L815.01 1133.53L815.80 1133.64L816.59 1133.76L817.39 1133.87L818.18 1133.99L818.97 1134.10L819.77 1134.21L820.56 1134.33L821.35 1134.44L822.15 1134.55L822.94 1134.67L823.73 1134.78L824.53 1134.90L825.32 1135.01L826.11 1135.12L826.91 1135.24L827.70 1135.35L828.49 1135.46L829.29 1135.58L830.08 1135.69L830.87 1135.80L831.67 1135.91L832.46 1136.03L833.25 1136.14L834.05 1136.25L834.84 1136.37L835.63 1136.48L836.43 1136.59L837.22 1136.70L838.01 1136.82L838.81 1136.93L839.60 1137.04L840.39 1137.15L841.19 1137.26L841.98 1137.38L842.77 1137.49L843.57 1137.60L844.36 1137.71L845.15 1137.82L845.95 1137.94L846.74 1138.05L847.53 1138.16L848.33 1138.27L849.12 1138.38L849.91 1138.49L850.71 1138.61L851.50 1138.72L852.29 1138.83L853.09 1138.94L853.88 1139.05L854.67 1139.16L855.47 1139.27L856.26 1139.38L857.05 1139.50L857.85 1139.61L858.64 1139.72L859.43 1139.83L860.23 1139.94L861.02 1140.05L861.81 1140.16L862.61 1140.27L863.40 1140.38L864.19 1140.49L864.99 1140.60L865.78 1140.71L866.57 1140.82L867.36 1140.93L868.16 1141.04L868.95 1141.15L869.74 1141.26L870.54 1141.37L871.33 1141.48L872.12 1141.59L872.92 1141.70L873.71 1141.81L874.50 1141.92L875.30 1142.03L876.09 1142.14L876.88 1142.25L877.68 1142.36L878.47 1142.47L879.26 1142.58L880.06 1142.69L880.85 1142.79L881.64 1142.90L882.44 1143.01L883.23 1143.12L884.02 1143.23L884.82 1143.34L885.61 1143.45L886.40 1143.56L887.20 1143.67L887.99 1143.77L888.78 1143.88L889.58 1143.99L890.37 1144.10L891.16 1144.21L891.96 1144.32L892.75 1144.42L893.54 1144.53L894.34 1144.64L895.13 1144.75L895.92 1144.86L896.72 1144.97L897.51 1145.07L898.30 1145.18L899.10 1145.29L899.89 1145.40L900.68 1145.50L901.48 1145.61L902.27 1145.72L903.06 1145.83L903.86 1145.93L904.65 1146.04L905.44 1146.15L906.24 1146.26L907.03 1146.36L907.82 1146.47L908.62 1146.58L909.41 1146.69L910.20 1146.79L911.00 1146.90L911.79 1147.01L912.58 1147.11L913.38 1147.22L914.17 1147.33L914.96 1147.43L915.76 1147.54L916.55 1147.65L917.34 1147.75L918.14 1147.86L918.93 1147.97L919.72 1148.07L920.52 1148.18L921.31 1148.28L922.10 1148.39L922.90 1148.50L923.69 1148.60L924.48 1148.71L925.27 1148.82L926.07 1148.92L926.86 1149.03L927.65 1149.13L928.45 1149.24L929.24 1149.34L930.03 1149.45L930.83 1149.56L931.62 1149.66L932.41 1149.77L933.21 1149.87L934.00 1149.98L934.79 1150.08" stroke="#9467bd"/>
<path d="M142.30 859.16L143.09 859.61L143.89 860.05L144.68 860.49L145.47 860.93L146.27 861.37L147.06 861.82L147.85 862.26L148.65 862.70L149.44 863.15L150.23 863.59L151.03 864.03L151.82 864.47L152.61 864.92L153.41 865.36L154.20 865.80L154.99 866.25L155.79 866.69L156.58 867.14L157.37 867.58L158.17 868.02L158.96 868.47L159.75 868.91L160.55 869.36L161.34 869.80L162.13 870.25L162.93 870.69L163.72 871.14L164.51 871.58L165.31 872.03L166.10 872.47L166.89 872.92L167.69 873.36L168.48 873.81L169.27 874.26L170.07 874.70L170.86 875.15L171.65 875.59L172.44 876.04L173.24 876.49L174.03 876.93L174.82 877.38L175.62 877.83L176.41 878.27L177.20 878.72L178.00 879.17L178.79 879.61L179.58 880.06L180.38 880.51L181.17 880.96L181.96 881.41L182.76 881.85L183.55 882.30L184.34 882.75L185.14 883.20L185.93 883.65L186.72 884.09L187.52 884.54L188.31 884.99L189.10 885.44L189.90 885.89L190.69 886.34L191.48 886.79L192.28 887.24L193.07 887.69L193.86 888.14L194.66 888.59L195.45 889.04L196.24 889.49L197.04 889.94L197.83 890.39L198.62 890.84L199.42 891.29L200.21 891.74L201.00 892.19L201.80 892.64L202.59 893.09L203.38 893.54L204.18 893.99L204.97 894.45L205.76 894.90L206.56 895.35L207.35 895.80L208.14 896.25L208.94 896.71L209.73 897.16L210.52 897.61L211.32 898.06L212.11 898.52L212.90 898.97L213.70 899.42L214.49 899.87L215.28 900.33L216.08 900.78L216.87 901.23L217.66 901.69L218.46 902.14L219.25 902.60L220.04 903.05L220.84 903.50L221.63 903.96L222.42 904.41L223.22 904.87L224.01 905.32L224.80 905.78L225.60 906.23L226.39 906.69L227.18 907.14L227.98 907.60L228.77 908.05L229.56 908.51L230.35 908.96L231.15 909.42L231.94 909.88L232.73 910.33L233.53 910.79L234.32 911.25L235.11 911.70L235.91 912.16L236.70 912.62L237.49 913.07L238.29 913.53L239.08 913.99L239.87 914.44L240.67 914.90L241.46 915.36L242.25 915.82L243.05 916.28L243.84 916.73L244.63 917.19L245.43 917.65L246.22 918.11L247.01 918.57L247.81 919.03L248.60 919.49L249.39 919.94L250.19 920.40L250.98 920.86L251.77 921.32L252.57 921.78L253.36 922.24L254.15 922.70L254.95 923.16L255.74 923.62L256.53 924.08L257.33 924.54L258.12 925.00L258.91 925.47L259.71 925.93L260.50 926.39L261.29 926.85L262.09 927.31L262.88 927.77L263.67 928.23L264.47 928.70L265.26 929.16L266.05 929.62L266.85 930.08L267.64 930.54L268.43 931.01L269.23 931.47L270.02 931.93L270.81 932.40L271.61 932.86L272.40 933.32L273.19 933.79L273.99 934.25L274.78 934.71L275.57 935.18L276.37 935.64L277.16 936.11L277.95 936.57L278.75 937.03L279.54 937.50L280.33 937.96L281.13 938.43L281.92 938.89L282.71 939.36L283.51 939.82L284.30 940.29L285.09 940.76L285.89 941.22L286.68 941.69L287.47 942.15L288.26 942.62L289.06 943.09L289.85 943.55L290.64 944.02L291.44 944.49L292.23 944.95L293.02 945.42L293.82 945.89L294.61 946.36L295.40 946.82L296.20 947.29L296.99 947.76L297.78 948.23L298.58 948.70L299.37 949.17L300.16 949.63L300.96 950.10L301.75 950.57L302.54 951.04L303.34 951.51L304.13 951.98L304.92 952.45L305.72 952.92L306.51 953.39L307.30 953.86L308.10 954.33L308.89 954.80L309.68 955.27L310.48 955.74L311.27 956.21L312.06 956.68L312.86 957.15L313.65 957.63L314.44 958.10L315.24 958.57L316.03 959.04L316.82 959.51L317.62 959.99L318.41 960.46L319.20 960.93L320.00 961.40L320.79 961.88L321.58 962.35L322.38 962.82L323.17 963.29L323.96 963.77L324.76 964.24L325.55 964.72L326.34 965.19L327.14 965.66L327.93 966.14L328.72 966.61L329.52 967.09L330.31 967.56L331.10 968.04L331.90 968.51L332.69 968.99L333.48 969.46L334.28 969.94L335.07 970.41L335.86 970.89L336.66 971.36L337.45 971.84L338.24 972.32L339.04 972.79L339.83 973.27L340.62 973.75L341.42 974.22L342.21 974.70L343.00 975.18L343.80 975.66L344.59 976.13L345.38 976.61L346.17 977.09L346.97 977.57L347.76 978.05L348.55 978.53L349.35 979.00L350.14 979.48L350.93 979.96L351.73 980.44L352.52 980.92L353.31 981.40L354.11 981.88L354.90 982.36L355.69 982.84L356.49 983.32L357.28 983.80L358.07 984.28L358.87 984.76L359.66 985.24L360.45 985.72L361.25 986.21L362.04 986.69L362.83 987.17L363.63 987.65L364.42 988.13L365.21 988.61L366.01 989.10L366.80 989.58L367.59 990.06L368.39 990.54L369.18 991.03L369.97 991.51L370.77 991.99L371.56 992.48L372.35 992.96L373.15 993.45L373.94 993.93L374.73 994.41L375.53 994.90L376.32 995.38L377.11 995.87L377.91 996.35L378.70 996.84L379.49 997.32L380.29 997.81L381.08 998.29L381.87 998.78L382.67 999.27L383.46 999.75L384.25 1000.24L385.05 1000.72L385.84 1001.21L386.63 1001.70L387.43 1002.18L388.22 1002.67L389.01 1003.16L389.81 1003.65L390.60 1004.13L391.39 1004.62L392.19 1005.11L392.98 1005.60L393.77 1006.09L394.57 1006.58L395.36 1007.06L396.15 1007.55L396.95 1008.04L397.74 1008.53L398.53 1009.02L399.33 1009.51L400.12 1010.00L400.91 1010.49L401.71 1010.98L402.50 1011.47L403.29 1011.96L404.08 1012.45L404.88 1012.95L405.67 1013.44L406.46 1013.93L407.26 1014.42L408.05 1014.91L408.84 1015.40L409.64 1015.90L410.43 1016.39L411.22 1016.88L412.02 1017.37L412.81 1017.87L413.60 1018.36L414.40 1018.85L415.19 1019.35L415.98 1019.84L416.78 1020.33L417.57 1020.83L418.36 1021.32L419.16 1021.81L419.95 1022.31L420.74 1022.80L421.54 1023.30L422.33 1023.79L423.12 1024.29L423.92 1024.78L424.71 1025.28L425.50 1025.78L426.30 1026.27L427.09 1026.77L427.88 1027.27L428.68 1027.76L429.47 1028.26L430.26 1028.76L431.06 1029.25L431.85 1029.75L432.64 1030.25L433.44 1030.75L434.23 1031.24L435.02 1031.74L435.82 1032.24L436.61 1032.74L437.40 1033.24L438.20 1033.74L438.99 1034.23L439.78 1034.73L440.58 1035.23L441.37 1035.73L442.16 1036.23L442.96 1036.73L443.75 1037.23L444.54 1037.73L445.34 1038.23L446.13 1038.74L446.92 1039.24L447.72 1039.74L448.51 1040.24L449.30 1040.74L450.10 1041.24L450.89 1041.74L451.68 1042.25L452.48 1042.75L453.27 1043.25L454.06 1043.75L454.86 1044.26L455.65 1044.76L456.44 1045.26L457.24 1045.77L458.03 1046.27L458.82 1046.77L459.62 1047.28L460.41 1047.78L461.20 1048.29L461.99 1048.79L462.79 1049.30L463.58 1049.80L464.37 1050.31L465.17 1050.81L465.96 1051.32L466.75 1051.83L467.55 1052.33L468.34 1052.84L469.13 1053.34L469.93 1053.85L470.72 1054.36L471.51 1054.87L472.31 1055.37L473.10 1055.88L473.89 1056.39L474.69 1056.90L475.48 1057.40L476.27 1057.91L477.07 1058.42L477.86 1058.93L478.65 1059.44L479.45 1059.95L480.24 1060.46L481.03 1060.97L481.83 1061.48L482.62 1061.99L483.41 1062.50L484.21 1063.01L485.00 1063.52L485.79 1064.03L486.59 1064.54L487.38 1065.05L488.17 1065.56L488.97 1066.07L489.76 1066.58L490.55 1067.10L491.35 1067.61L492.14 1068.12L492.93 1068.63L493.73 1069.15L494.52 1069.66L495.31 1070.17L496.11 1070.69L496.90 1071.20L497.69 1071.71L498.49 1072.23L499.28 1072.74L500.07 1073.26L500.87 1073.77L501.66 1074.29L502.45 1074.80L503.25 1075.32L504.04 1075.83L504.83 1076.35L505.63 1076.86L506.42 1077.38L507.21 1077.90L508.01 1078.41L508.80 1078.93L509.59 1079.45L510.39 1079.96L511.18 1080.48L511.97 1081.00L512.77 1081.52L513.56 1082.04L514.35 1082.55L515.15 1083.07L515.94 1083.59L516.73 1084.11L517.53 1084.63L518.32 1085.15L519.11 1085.67L519.90 1086.19L520.70 1086.71L521.49 1087.23L522.28 1087.75L523.08 1088.27L523.87 1088.79L524.66 1089.31L525.46 1089.83L526.25 1090.35L527.04 1090.87L527.84 1091.40L528.63 1091.92L529.42 1092.44L530.22 1092.96L531.01 1093.49L531.80 1094.01L532.60 1094.53L533.39 1095.06L534.18 1095.58L534.98 1096.10L535.77 1096.63L536.56 1097.15L537.36 1097.68L538.15 1098.20L538.94 1098.73L539.74 1099.25L540.53 1099.78L541.32 1100.30L542.12 1100.83L542.91 1101.35L543.70 1101.88L544.50 1102.41L545.29 1102.93L546.08 1103.46L546.88 1103.99L547.67 1104.51L548.46 1105.04L549.26 1105.57L550.05 1106.10L550.84 1106.63L551.64 1107.15L552.43 1107.68L553.22 1108.21L554.02 1108.74L554.81 1109.27L555.60 1109.80L556.40 1110.33L557.19 1110.86L557.98 1111.39L558.78 1111.92L559.57 1112.45L560.36 1112.98L561.16 1113.51L561.95 1114.04L562.74 1114.58L563.54 1115.11L564.33 1115.64L565.12 1116.17L565.92 1116.71L566.71 1117.24L567.50 1117.77L568.30 1118.30L569.09 1118.84L569.88 1119.37L570.68 1119.90L571.47 1120.44L572.26 1120.97L573.06 1121.51L573.85 1122.04L574.64 1122.58L575.44 1123.11L576.23 1123.65L577.02 1124.18L577.81 1124.72L578.61 1125.26L579.40 1125.79L580.19 1126.33L580.99 1126.87L581.78 1127.40L582.57 1127.94L583.37 1128.48L584.16 1129.01L584.95 1129.55L585.75 1130.09L586.54 1130.63L587.33 1131.17L588.13 1131.71L588.92 1132.25L589.71 1132.78L590.51 1133.32L591.30 1133.86L592.09 1134.40L592.89 1134.94L593.68 1135.49L594.47 1136.03L595.27 1136.57L596.06 1137.11L596.85 1137.65L597.65 1138.19L598.44 1138.73L599.23 1139.28L600.03 1139.82L600.82 1140.36L601.61 1140.90L602.41 1141.45L603.20 1141.99L603.99 1142.53L604.79 1143.08L605.58 1143.62L606.37 1144.16L607.17 1144.71L607.96 1145.25L608.75 1145.80L609.55 1146.34L610.34 1146.89L611.13 1147.44L611.93 1147.98L612.72 1148.53L613.51 1149.07L614.31 1149.62L615.10 1150.17L615.89 1150.71L616.69 1151.26L617.48 1151.81L618.27 1152.36L619.07 1152.90L619.86 1153.45L620.65 1154.00L621.45 1154.55L622.24 1155.10L623.03 1155.65L623.83 1156.20L624.62 1156.75L625.41 1157.30L626.21 1157.85L627.00 1158.40L627.79 1158.95L628.59 1159.50L629.38 1160.05L630.17 1160.60L630.97 1161.15L631.76 1161.71L632.55 1162.26L633.35 1162.81L634.14 1163.36L634.93 1163.92L635.72 1164.47L636.52 1165.02L637.31 1165.58L638.10 1166.13L638.90 1166.68L639.69 1167.24L640.48 1167.79L641.28 1168.35L642.07 1168.90L642.86 1169.46L643.66 1170.01L644.45 1170.57L645.24 1171.13L646.04 1171.68L646.83 1172.24L647.62 1172.80L648.42 1173.35L649.21 1173.91L650.00 1174.47L650.80 1175.02L651.59 1175.58L652.38 1176.14L653.18 1176.70L653.97 1177.26L654.76 1177.82L655.56 1178.38L656.35 1178.94L657.14 1179.50L657.94 1180.06L658.73 1180.62L659.52 1181.18L660.32 1181.74L661.11 1182.30L661.90 1182.86L662.70 1183.42L663.49 1183.98L664.28 1184.55L665.08 1185.11L665.87 1185.67L666.66 1186.23L667.46 1186.80L668.25 1187.36L669.04 1187.92L669.84 1188.49L670.63 1189.05L671.42 1189.61L672.22 1190.18L673.01 1190.74L673.80 1191.31L674.60 1191.87L675.39 1192.44L676.18 1193.01L676.98 1193.57L677.77 1194.14L678.56 1194.70L679.36 1195.27L680.15 1195.84L680.94 1196.41L681.74 1196.97L682.53 1197.54L683.32 1198.11L684.12 1198.68L684.91 1199.25L685.70 1199.82L686.50 1200.38L687.29 1200.95L688.08 1201.52L688.88 1202.09L689.67 1202.66L690.46 1203.23L691.26 1203.80L692.05 1204.38L692.84 1204.95L693.63 1205.52L694.43 1206.09L695.22 1206.66L696.01 1207.23L696.81 1207.81L697.60 1208.38L698.39 1208.95L699.19 1209.53L699.98 1210.10L700.77 1210.67L701.57 1211.25L702.36 1211.82L703.15 1212.40L703.95 1212.97L704.74 1213.55L705.53 1214.12L706.33 1214.70L707.12 1215.27L707.91 1215.85L708.71 1216.43L709.50 1217.00L710.29 1217.58L711.09 1218.16L711.88 1218.73L712.67 1219.31L713.47 1219.89L714.26 1220.47L715.05 1221.05L715.85 1221.62L716.64 1222.20L717.43 1222.78L718.23 1223.36L719.02 1223.94L719.81 1224.52L720.61 1225.10L721.40 1225.68L722.19 1226.26L722.99 1226.85L723.78 1227.43L724.57 1228.01L725.37 1228.59L726.16 1229.17L726.95 1229.76L727.75 1230.34L728.54 1230.92L729.33 1231.50L730.13 1232.09L730.92 1232.67L731.71 1233.26L732.51 1233.84L733.30 1234.43L734.09 1235.01L734.89 1235.60L735.68 1236.18L736.47 1236.77L737.27 1237.35L738.06 1237.94L738.85 1238.53L739.65 1239.11L740.44 1239.70L741.23 1240.29L742.03 1240.87L742.82 1241.46L743.61 1242.05L744.41 1242.64L745.20 1243.23L745.99 1243.82L746.79 1244.41L747.58 1245.00L748.37 1245.59L749.17 1246.18L749.96 1246.77L750.75 1247.36L751.54 1247.95L752.34 1248.54L753.13 1249.13L753.92 1249.72L754.72 1250.31L755.51 1250.91L756.30 1251.50L757.10 1252.09L757.89 1252.68L758.68 1253.28L759.48 1253.87L760.27 1254.47L761.06 1255.06L761.86 1255.65L762.65 1256.25L763.44 1256.84L764.24 1257.44L765.03 1258.03L765.82 1258.63L766.62 1259.23L767.41 1259.82L768.20 1260.42L769.00 1261.02L769.79 1261.61L770.58 1262.21L771.38 1262.81L772.17 1263.41L772.96 1264.01L773.76 1264.60L774.55 1265.20L775.34 1265.80L776.14 1266.40L776.93 1267.00L777.72 1267.60L778.52 1268.20L779.31 1268.80L780.10 1269.40L780.90 1270.01L781.69 1270.61L782.48 1271.21L783.28 1271.81L784.07 1272.41L784.86 1273.02L785.66 1273.62L786.45 1274.22L787.24 1274.82L788.04 1275.43L788.83 1276.03L789.62 1276.64L790.42 1277.24L791.21 1277.85L792.00 1278.45L792.80 1279.06L793.59 1279.66L794.38 1280.27L795.18 1280.87L795.97 1281.48L796.76 1282.09L797.56 1282.70L798.35 1283.30L799.14 1283.91L799.94 1284.52L800.73 1285.13L801.52 1285.74L802.32 1286.34L803.11 1286.95L803.90 1287.56L804.70 1288.17L805.49 1288.78L806.28 1289.39L807.08 1290.00L807.87 1290.61L808.66 1291.23L809.45 1291.84L810.25 1292.45L811.04 1293.06L811.83 1293.67L812.63 1294.29L813.42 1294.90L814.21 1295.51L815.01 1296.13L815.80 1296.74L816.59 1297.35L817.39 1297.97L818.18 1298.58L818.97 1299.20L819.77 1299.81L820.56 1300.43L821.35 1301.04L822.15 1301.66L822.94 1302.28L823.73 1302.89L824.53 1303.51L825.32 1304.13L826.11 1304.75L826.91 1305.36L827.70 1305.98L828.49 1306.60L829.29 1307.22L830.08 1307.84L830.87 1308.46L831.67 1309.08L832.46 1309.70L833.25 1310.32L834.05 1310.94L834.84 1311.56L835.63 1312.18L836.43 1312.80L837.22 1313.42L838.01 1314.04L838.81 1314.67L839.60 1315.29L840.39 1315.91L841.19 1316.54L841.98 1317.16L842.77 1317.78L843.57 1318.41L844.36 1319.03L845.15 1319.66L845.95 1320.28L846.74 1320.91L847.53 1321.53L848.33 1322.16L849.12 1322.78L849.91 1323.41L850.71 1324.04L851.50 1324.66L852.29 1325.29L853.09 1325.92L853.88 1326.55L854.67 1327.18L855.47 1327.80L856.26 1328.43L857.05 1329.06L857.85 1329.69L858.64 1330.32L859.43 1330.95L860.23 1331.58L861.02 1332.21L861.81 1332.84L862.61 1333.48L863.40 1334.11L864.19 1334.74L864.99 1335.37L865.78 1336.00L866.57 1336.64L867.36 1337.27L868.16 1337.90L868.95 1338.54L869.74 1339.17L870.54 1339.80L871.33 1340.44L872.12 1341.07L872.92 1341.71L873.71 1342.35L874.50 1342.98L875.30 1343.62L876.09 1344.25L876.88 1344.89L877.68 1345.53L878.47 1346.17L879.26 1346.80L880.06 1347.44L880.85 1348.08L881.64 1348.72L882.44 1349.36L883.23 1350.00L884.02 1350.64L884.82 1351.28L885.61 1351.92L886.40 1352.56L887.20 1353.20L887.99 1353.84L888.78 1354.48L889.58 1355.12L890.37 1355.76L891.16 1356.41L891.96 1357.05L892.75 1357.69L893.54 1358.34L894.34 1358.98L895.13 1359.62L895.92 1360.27L896.72 1360.91L897.51 1361.56L898.30 1362.20L899.10 1362.85L899.89 1363.49L900.68 1364.14L901.48 1364.79L902.27 1365.43L903.06 1366.08L903.86 1366.73L904.65 1367.37L905.44 1368.02L906.24 1368.67L907.03 1369.32L907.82 1369.97L908.62 1370.62L909.41 1371.27L910.20 1371.92L911.00 1372.57L911.79 1373.22L912.58 1373.87L913.38 1374.52L914.17 1375.17L914.96 1375.82L915.76 1376.47L916.55 1377.13L917.34 1377.78L918.14 1378.43L918.93 1379.09L919.72 1379.74L920.52 1380.39L921.31 1381.05L922.10 1381.70L922.90 1382.36L923.69 1383.01L924.48 1383.67L925.27 1384.32L926.07 1384.98L926.86 1385.64L927.65 1386.29L928.45 1386.95L929.24 1387.61L930.03 1388.27L930.83 1388.93L931.62 1389.58L932.41 1390.24L933.21 1390.90L934.00 1391.56L934.79 1392.22" stroke="#1f77b4"/>
<path d="M142.30 1060.40L143.09 1057.53L143.89 1054.86L144.68 1052.38L145.47 1050.08L146.27 1047.94L147.06 1045.96L147.85 1044.12L148.65 1042.41L149.44 1040.82L150.23 1039.34L151.03 1037.97L151.82 1036.70L152.61 1035.52L153.41 1034.42L154.20 1033.40L154.99 1032.46L155.79 1031.58L156.58 1030.76L157.37 1030.01L158.17 1029.30L158.96 1028.65L159.75 1028.04L160.55 1027.48L161.34 1026.96L162.13 1026.47L162.93 1026.02L163.72 1025.60L164.51 1025.21L165.31 1024.85L166.10 1024.51L166.89 1024.20L167.69 1023.91L168.48 1023.65L169.27 1023.40L170.07 1023.16L170.86 1022.95L171.65 1022.75L172.44 1022.56L173.24 1022.39L174.03 1022.23L174.82 1022.08L175.62 1021.95L176.41 1021.82L177.20 1021.70L178.00 1021.59L178.79 1021.49L179.58 1021.39L180.38 1021.30L181.17 1021.22L181.96 1021.14L182.76 1021.07L183.55 1021.01L184.34 1020.95L185.14 1020.89L185.93 1020.84L186.72 1020.79L187.52 1020.74L188.31 1020.70L189.10 1020.66L189.90 1020.62L190.69 1020.59L191.48 1020.56L192.28 1020.53L193.07 1020.50L193.86 1020.48L194.66 1020.45L195.45 1020.43L196.24 1020.41L197.04 1020.39L197.83 1020.38L198.62 1020.36L199.42 1020.35L200.21 1020.33L201.00 1020.32L201.80 1020.31L202.59 1020.30L203.38 1020.29L204.18 1020.28L204.97 1020.27L205.76 1020.26L206.56 1020.25L207.35 1020.24L208.14 1020.24L208.94 1020.23L209.73 1020.23L210.52 1020.22L211.32 1020.22L212.11 1020.21L212.90 1020.21L213.70 1020.20L214.49 1020.20L215.28 1020.20L216.08 1020.19L216.87 1020.19L217.66 1020.19L218.46 1020.18L219.25 1020.18L220.04 1020.18L220.84 1020.18L221.63 1020.18L222.42 1020.17L223.22 1020.17L224.01 1020.17L224.80 1020.17L225.60 1020.17L226.39 1020.17L227.18 1020.17L227.98 1020.17L228.77 1020.16L229.56 1020.16L230.35 1020.16L231.15 1020.16L231.94 1020.16L232.73 1020.16L233.53 1020.16L234.32 1020.16L235.11 1020.16L235.91 1020.16L236.70 1020.16L237.49 1020.16L238.29 1020.16L239.08 1020.16L239.87 1020.16L240.67 1020.16L241.46 1020.16L242.25 1020.16L243.05 1020.15L243.84 1020.15L244.63 1020.15L245.43 1020.15L246.22 1020.15L247.01 1020.15L247.81 1020.15L248.60 1020.15L249.39 1020.15L250.19 1020.15L250.98 1020.15L251.77 1020.15L252.57 1020.15L253.36 1020.15L254.15 1020.15L254.95 1020.15L255.74 1020.15L256.53 1020.15L257.33 1020.15L258.12 1020.15L258.91 1020.15L259.71 1020.15L260.50 1020.15L261.29 1020.15L262.09 1020.15L262.88 1020.15L263.67 1020.15L264.47 1020.15L265.26 1020.15L266.05 1020.15L266.85 1020.15L267.64 1020.15L268.43 1020.15L269.23 1020.15L270.02 1020.15L270.81 1020.15L271.61 1020.15L272.40 1020.15L273.19 1020.15L273.99 1020.15L274.78 1020.15L275.57 1020.15L276.37 1020.15L277.16 1020.15L277.95 1020.15L278.75 1020.15L279.54 1020.15L280.33 1020.15L281.13 1020.15L281.92 1020.15L282.71 1020.15L283.51 1020.15L284.30 1020.15L285.09 1020.15L285.89 1020.15L286.68 1020.15L287.47 1020.15L288.26 1020.15L289.06 1020.15L289.85 1020.15L290.64 1020.15L291.44 1020.15L292.23 1020.15L293.02 1020.15L293.82 1020.15L294.61 1020.15L295.40 1020.15L296.20 1020.15L296.99 1020.15L297.78 1020.15L298.58 1020.15L299.37 1020.15L300.16 1020.15L300.96 1020.15L301.75 1020.15L302.54 1020.15L303.34 1020.15L304.13 1020.15L304.92 1020.15L305.72 1020.15L306.51 1020.15L307.30 1020.15L308.10 1020.15L308.89 1020.15L309.68 1020.15L310.48 1020.15L311.27 1020.15L312.06 1020.15L312.86 1020.15L313.65 1020.15L314.44 1020.15L315.24 1020.15L316.03 1020.15L316.82 1020.15L317.62 1020.15L318.41 1020.15L319.20 1020.15L320.00 1020.15L320.79 1020.15L321.58 1020.15L322.38 1020.15L323.17 1020.15L323.96 1020.15L324.76 1020.15L325.55 1020.15L326.34 1020.15L327.14 1020.15L327.93 1020.15L328.72 1020.15L329.52 1020.15L330.31 1020.15L331.10 1020.15L331.90 1020.15L332.69 1020.15L333.48 1020.15L334.28 1020.15L335.07 1020.15L335.86 1020.15L336.66 1020.15L337.45 1020.15L338.24 1020.15L339.04 1020.15L339.83 1020.15L340.62 1020.15L341.42 1020.15L342.21 1020.15L343.00 1020.15L343.80 1020.15L344.59 1020.15L345.38 1020.15L346.17 1020.15L346.97 1020.15L347.76 1020.15L348.55 1020.15L349.35 1020.15L350.14 1020.15L350.93 1020.15L351.73 1020.15L352.52 1020.15L353.31 1020.15L354.11 1020.15L354.90 1020.15L355.69 1020.15L356.49 1020.15L357.28 1020.15L358.07 1020.15L358.87 1020.15L359.66 1020.15L360.45 1020.15L361.25 1020.15L362.04 1020.15L362.83 1020.15L363.63 1020.15L364.42 1020.15L365.21 1020.15L366.01 1020.15L366.80 1020.15L367.59 1020.15L368.39 1020.15L369.18 1020.15L369.97 1020.15L370.77 1020.15L371.56 1020.15L372.35 1020.15L373.15 1020.15L373.94 1020.15L374.73 1020.15L375.53 1020.15L376.32 1020.15L377.11 1020.15L377.91 1020.15L378.70 1020.15L379.49 1020.15L380.29 1020.15L381.08 1020.15L381.87 1020.15L382.67 1020.15L383.46 1020.15L384.25 1020.15L385.05 1020.15L385.84 1020.15L386.63 1020.15L387.43 1020.15L388.22 1020.15L389.01 1020.15L389.81 1020.15L390.60 1020.15L391.39 1020.15L392.19 1020.15L392.98 1020.15L393.77 1020.15L394.57 1020.15L395.36 1020.15L396.15 1020.15L396.95 1020.15L397.74 1020.15L398.53 1020.15L399.33 1020.15L400.12 1020.15L400.91 1020.15L401.71 1020.15L402.50 1020.15L403.29 1020.15L404.08 1020.15L404.88 1020.15L405.67 1020.15L406.46 1020.15L407.26 1020.15L408.05 1020.15L408.84 1020.15L409.64 1020.15L410.43 1020.15L411.22 1020.15L412.02 1020.15L412.81 1020.15L413.60 1020.15L414.40 1020.15L415.19 1020.15L415.98 1020.15L416.78 1020.15L417.57 1020.15L418.36 1020.15L419.16 1020.15L419.95 1020.15L420.74 1020.15L421.54 1020.15L422.33 1020.15L423.12 1020.15L423.92 1020.15L424.71 1020.15L425.50 1020.15L426.30 1020.15L427.09 1020.15L427.88 1020.15L428.68 1020.15L429.47 1020.15L430.26 1020.15L431.06 1020.15L431.85 1020.15L432.64 1020.15L433.44 1020.15L434.23 1020.15L435.02 1020.15L435.82 1020.15L436.61 1020.15L437.40 1020.15L438.20 1020.15L438.99 1020.15L439.78 1020.15L440.58 1020.15L441.37 1020.15L442.16 1020.15L442.96 1020.15L443.75 1020.15L444.54 1020.15L445.34 1020.15L446.13 1020.15L446.92 1020.15L447.72 1020.15L448.51 1020.15L449.30 1020.15L450.10 1020.15L450.89 1020.15L451.68 1020.15L452.48 1020.15L453.27 1020.15L454.06 1020.15L454.86 1020.15L455.65 1020.15L456.44 1020.15L457.24 1020.15L458.03 1020.15L458.82 1020.15L459.62 1020.15L460.41 1020.15L461.20 1020.15L461.99 1020.15L462.79 1020.15L463.58 1020.15L464.37 1020.15L465.17 1020.15L465.96 1020.15L466.75 1020.15L467.55 1020.15L468.34 1020.15L469.13 1020.15L469.93 1020.15L470.72 1020.15L471.51 1020.15L472.31 1020.15L473.10 1020.15L473.89 1020.15L474.69 1020.15L475.48 1020.15L476.27 1020.15L477.07 1020.15L477.86 1020.15L478.65 1020.15L479.45 1020.15L480.24 1020.15L481.03 1020.15L481.83 1020.15L482.62 1020.15L483.41 1020.15L484.21 1020.15L485.00 1020.15L485.79 1020.15L486.59 1020.15L487.38 1020.15L488.17 1020.15L488.97 1020.15L489.76 1020.15L490.55 1020.15L491.35 1020.15L492.14 1020.15L492.93 1020.15L493.73 1020.15L494.52 1020.15L495.31 1020.15L496.11 1020.15L496.90 1020.15L497.69 1020.15L498.49 1020.15L499.28 1020.15L500.07 1020.15L500.87 1020.15L501.66 1020.15L502.45 1020.15L503.25 1020.15L504.04 1020.15L504.83 1020.15L505.63 1020.15L506.42 1020.15L507.21 1020.15L508.01 1020.15L508.80 1020.15L509.59 1020.15L510.39 1020.15L511.18 1020.15L511.97 1020.15L512.77 1020.15L513.56 1020.15L514.35 1020.15L515.15 1020.15L515.94 1020.15L516.73 1020.15L517.53 1020.15L518.32 1020.15L519.11 1020.15L519.90 1020.15L520.70 1020.15L521.49 1020.15L522.28 1020.15L523.08 1020.15L523.87 1020.15L524.66 1020.15L525.46 1020.15L526.25 1020.15L527.04 1020.15L527.84 1020.15L528.63 1020.15L529.42 1020.15L530.22 1020.15L531.01 1020.15L531.80 1020.15L532.60 1020.15L533.39 1020.15L534.18 1020.15L534.98 1020.15L535.77 1020.15L536.56 1020.15L537.36 1020.15L538.15 1020.15L538.94 1020.15L539.74 1020.15L540.53 1020.15L541.32 1020.15L542.12 1020.15L542.91 1020.15L543.70 1020.15L544.50 1020.15L545.29 1020.15L546.08 1020.15L546.88 1020.15L547.67 1020.15L548.46 1020.15L549.26 1020.15L550.05 1020.15L550.84 1020.15L551.64 1020.15L552.43 1020.15L553.22 1020.15L554.02 1020.15L554.81 1020.15L555.60 1020.15L556.40 1020.15L557.19 1020.15L557.98 1020.15L558.78 1020.15L559.57 1020.15L560.36 1020.15L561.16 1020.15L561.95 1020.15L562.74 1020.15L563.54 1020.15L564.33 1020.15L565.12 1020.15L565.92 1020.15L566.71 1020.15L567.50 1020.15L568.30 1020.15L569.09 1020.15L569.88 1020.15L570.68 1020.15L571.47 1020.15L572.26 1020.15L573.06 1020.15L573.85 1020.15L574.64 1020.15L575.44 1020.15L576.23 1020.15L577.02 1020.15L577.81 1020.15L578.61 1020.15L579.40 1020.15L580.19 1020.15L580.99 1020.15L581.78 1020.15L582.57 1020.15L583.37 1020.15L584.16 1020.15L584.95 1020.15L585.75 1020.15L586.54 1020.15L587.33 1020.15L588.13 1020.15L588.92 1020.15L589.71 1020.15L590.51 1020.15L591.30 1020.15L592.09 1020.15L592.89 1020.15L593.68 1020.15L594.47 1020.15L595.27 1020.15L596.06 1020.15L596.85 1020.15L597.65 1020.15L598.44 1020.15L599.23 1020.15L600.03 1020.15L600.82 1020.15L601.61 1020.15L602.41 1020.15L603.20 1020.15L603.99 1020.15L604.79 1020.15L605.58 1020.15L606.37 1020.15L607.17 1020.15L607.96 1020.15L608.75 1020.15L609.55 1020.15L610.34 1020.15L611.13 1020.15L611.93 1020.15L612.72 1020.15L613.51 1020.15L614.31 1020.15L615.10 1020.15L615.89 1020.15L616.69 1020.15L617.48 1020.15L618.27 1020.15L619.07 1020.15L619.86 1020.15L620.65 1020.15L621.45 1020.15L622.24 1020.15L623.03 1020.15L623.83 1020.15L624.62 1020.15L625.41 1020.15L626.21 1020.15L627.00 1020.15L627.79 1020.15L628.59 1020.15L629.38 1020.15L630.17 1020.15L630.97 1020.15L631.76 1020.15L632.55 1020.15L633.35 1020.15L634.14 1020.15L634.93 1020.15L635.72 1020.15L636.52 1020.15L637.31 1020.15L638.10 1020.15L638.90 1020.15L639.69 1020.15L640.48 1020.15L641.28 1020.15L642.07 1020.15L642.86 1020.15L643.66 1020.15L644.45 1020.15L645.24 1020.15L646.04 1020.15L646.83 1020.15L647.62 1020.15L648.42 1020.15L649.21 1020.15L650.00 1020.15L650.80 1020.15L651.59 1020.15L652.38 1020.15L653.18 1020.15L653.97 1020.15L654.76 1020.15L655.56 1020.15L656.35 1020.15L657.14 1020.15L657.94 1020.15L658.73 1020.15L659.52 1020.15L660.32 1020.15L661.11 1020.15L661.90 1020.15L662.70 1020.15L663.49 1020.15L664.28 1020.15L665.08 1020.15L665.87 1020.15L666.66 1020.15L667.46 1020.15L668.25 1020.15L669.04 1020.15L669.84 1020.15L670.63 1020.15L671.42 1020.15L672.22 1020.15L673.01 1020.15L673.80 1020.15L674.60 1020.15L675.39 1020.15L676.18 1020.15L676.98 1020.15L677.77 1020.15L678.56 1020.15L679.36 1020.15L680.15 1020.15L680.94 1020.15L681.74 1020.15L682.53 1020.15L683.32 1020.15L684.12 1020.15L684.91 1020.15L685.70 1020.15L686.50 1020.15L687.29 1020.15L688.08 1020.15L688.88 1020.15L689.67 1020.15L690.46 1020.15L691.26 1020.15L692.05 1020.15L692.84 1020.15L693.63 1020.15L694.43 1020.15L695.22 1020.15L696.01 1020.15L696.81 1020.15L697.60 1020.15L698.39 1020.15L699.19 1020.15L699.98 1020.15L700.77 1020.15L701.57 1020.15L702.36 1020.15L703.15 1020.15L703.95 1020.15L704.74 1020.15L705.53 1020.15L706.33 1020.15L707.12 1020.15L707.91 1020.15L708.71 1020.15L709.50 1020.15L710.29 1020.15L711.09 1020.15L711.88 1020.15L712.67 1020.15L713.47 1020.15L714.26 1020.15L715.05 1020.15L715.85 1020.15L716.64 1020.15L717.43 1020.15L718.23 1020.15L719.02 1020.15L719.81 1020.15L720.61 1020.15L721.40 1020.15L722.19 1020.15L722.99 1020.15L723.78 1020.15L724.57 1020.15L725.37 1020.15L726.16 1020.15L726.95 1020.15L727.75 1020.15L728.54 1020.15L729.33 1020.15L730.13 1020.15L730.92 1020.15L731.71 1020.15L732.51 1020.15L733.30 1020.15L734.09 1020.15L734.89 1020.15L735.68 1020.15L736.47 1020.15L737.27 1020.15L738.06 1020.15L738.85 1020.15L739.65 1020.15L740.44 1020.15L741.23 1020.15L742.03 1020.15L742.82 1020.15L743.61 1020.15L744.41 1020.15L745.20 1020.15L745.99 1020.15L746.79 1020.15L747.58 1020.15L748.37 1020.15L749.17 1020.15L749.96 1020.15L750.75 1020.15L751.54 1020.15L752.34 1020.15L753.13 1020.15L753.92 1020.15L754.72 1020.15L755.51 1020.15L756.30 1020.15L757.10 1020.15L757.89 1020.15L758.68 1020.15L759.48 1020.15L760.27 1020.15L761.06 1020.15L761.86 1020.15L762.65 1020.15L763.44 1020.15L764.24 1020.15L765.03 1020.15L765.82 1020.15L766.62 1020.15L767.41 1020.15L768.20 1020.15L769.00 1020.15L769.79 1020.15L770.58 1020.15L771.38 1020.15L772.17 1020.15L772.96 1020.15L773.76 1020.15L774.55 1020.15L775.34 1020.15L776.14 1020.15L776.93 1020.15L777.72 1020.15L778.52 1020.15L779.31 1020.15L780.10 1020.15L780.90 1020.15L781.69 1020.15L782.48 1020.15L783.28 1020.15L784.07 1020.15L784.86 1020.15L785.66 1020.15L786.45 1020.15L787.24 1020.15L788.04 1020.15L788.83 1020.15L789.62 1020.15L790.42 1020.15L791.21 1020.15L792.00 1020.15L792.80 1020.15L793.59 1020.15L794.38 1020.15L795.18 1020.15L795.97 1020.15L796.76 1020.15L797.56 1020.15L798.35 1020.15L799.14 1020.15L799.94 1020.15L800.73 1020.15L801.52 1020.15L802.32 1020.15L803.11 1020.15L803.90 1020.15L804.70 1020.15L805.49 1020.15L806.28 1020.15L807.08 1020.15L807.87 1020.15L808.66 1020.15L809.45 1020.15L810.25 1020.15L811.04 1020.15L811.83 1020.15L812.63 1020.15L813.42 1020.15L814.21 1020.15L815.01 1020.15L815.80 1020.15L816.59 1020.15L817.39 1020.15L818.18 1020.15L818.97 1020.15L819.77 1020.15L820.56 1020.15L821.35 1020.15L822.15 1020.15L822.94 1020.15L823.73 1020.15L824.53 1020.15L825.32 1020.15L826.11 1020.15L826.91 1020.15L827.70 1020.15L828.49 1020.15L829.29 1020.15L830.08 1020.15L830.87 1020.15L831.67 1020.15L832.46 1020.15L833.25 1020.15L834.05 1020.15L834.84 1020.15L835.63 1020.15L836.43 1020.15L837.22 1020.15L838.01 1020.15L838.81 1020.15L839.60 1020.15L840.39 1020.15L841.19 1020.15L841.98 1020.15L842.77 1020.15L843.57 1020.15L844.36 1020.15L845.15 1020.15L845.95 1020.15L846.74 1020.15L847.53 1020.15L848.33 1020.15L849.12 1020.15L849.91 1020.15L850.71 1020.15L851.50 1020.15L852.29 1020.15L853.09 1020.15L853.88 1020.15L854.67 1020.15L855.47 1020.15L856.26 1020.15L857.05 1020.15L857.85 1020.15L858.64 1020.15L859.43 1020.15L860.23 1020.15L861.02 1020.15L861.81 1020.15L862.61 1020.15L863.40 1020.15L864.19 1020.15L864.99 1020.15L865.78 1020.15L866.57 1020.15L867.36 1020.15L868.16 1020.15L868.95 1020.15L869.74 1020.15L870.54 1020.15L871.33 1020.15L872.12 1020.15L872.92 1020.15L873.71 1020.15L874.50 1020.15L875.30 1020.15L876.09 1020.15L876.88 1020.15L877.68 1020.15L878.47 1020.15L879.26 1020.15L880.06 1020.15L880.85 1020.15L881.64 1020.15L882.44 1020.15L883.23 1020.15L884.02 1020.15L884.82 1020.15L885.61 1020.15L886.40 1020.15L887.20 1020.15L887.99 1020.15L888.78 1020.15L889.58 1020.15L890.37 1020.15L891.16 1020.15L891.96 1020.15L892.75 1020.15L893.54 1020.15L894.34 1020.15L895.13 1020.15L895.92 1020.15L896.72 1020.15L897.51 1020.15L898.30 1020.15L899.10 1020.15L899.89 1020.15L900.68 1020.15L901.48 1020.15L902.27 1020.15L903.06 1020.15L903.86 1020.15L904.65 1020.15L905.44 1020.15L906.24 1020.15L907.03 1020.15L907.82 1020.15L908.62 1020.15L909.41 1020.15L910.20 1020.15L911.00 1020.15L911.79 1020.15L912.58 1020.15L913.38 1020.15L914.17 1020.15L914.96 1020.15L915.76 1020.15L916.55 1020.15L917.34 1020.15L918.14 1020.15L918.93 1020.15L919.72 1020.15L920.52 1020.15L921.31 1020.15L922.10 1020.15L922.90 1020.15L923.69 1020.15L924.48 1020.15L925.27 1020.15L926.07 1020.15L926.86 1020.15L927.65 1020.15L928.45 1020.15L929.24 1020.15L930.03 1020.15L930.83 1020.15L931.62 1020.15L932.41 1020.15L933.21 1020.15L934.00 1020.15L934.79 1020.15" stroke="#2ca02c"/>
<path d="M142.30 1060.40L143.09 1057.53L143.89 1054.86L144.68 1052.38L145.47 1050.08L146.27 1047.94L147.06 1045.96L147.85 1044.12L148.65 1042.41L149.44 1040.82L150.23 1039.34L151.03 1037.97L151.82 1036.70L152.61 1035.52L153.41 1034.42L154.20 1033.40L154.99 1032.46L155.79 1031.58L156.58 1030.76L157.37 1030.01L158.17 1029.30L158.96 1028.65L159.75 1028.04L160.55 1027.48L161.34 1026.96L162.13 1026.47L162.93 1026.02L163.72 1025.60L164.51 1025.21L165.31 1024.85L166.10 1024.51L166.89 1024.20L167.69 1023.91L168.48 1023.65L169.27 1023.40L170.07 1023.16L170.86 1022.95L171.65 1022.75L172.44 1022.56L173.24 1022.39L174.03 1022.23L174.82 1022.08L175.62 1021.95L176.41 1021.82L177.20 1021.70L178.00 1021.59L178.79 1021.49L179.58 1021.39L180.38 1021.30L181.17 1021.22L181.96 1021.14L182.76 1021.07L183.55 1021.01L184.34 1020.95L185.14 1020.89L185.93 1020.84L186.72 1020.79L187.52 1020.74L188.31 1020.70L189.10 1020.66L189.90 1020.62L190.69 1020.59L191.48 1020.56L192.28 1020.53L193.07 1020.50L193.86 1020.48L194.66 1020.45L195.45 1020.43L196.24 1020.41L197.04 1020.39L197.83 1020.38L198.62 1020.36L199.42 1020.35L200.21 1020.33L201.00 1020.32L201.80 1020.31L202.59 1020.30L203.38 1020.29L204.18 1020.28L204.97 1020.27L205.76 1020.26L206.56 1020.25L207.35 1020.24L208.14 1020.24L208.94 1020.23L209.73 1020.23L210.52 1020.22L211.32 1020.22L212.11 1020.21L212.90 1020.21L213.70 1020.20L214.49 1020.20L215.28 1020.20L216.08 1020.19L216.87 1020.19L217.66 1020.19L218.46 1020.18L219.25 1020.18L220.04 1020.18L220.84 1020.18L221.63 1020.18L222.42 1020.17L223.22 1020.17L224.01 1020.17L224.80 1020.17L225.60 1020.17L226.39 1020.17L227.18 1020.17L227.98 1020.17L228.77 1020.16L229.56 1020.16L230.35 1020.16L231.15 1020.16L231.94 1020.16L232.73 1020.16L233.53 1020.16L234.32 1020.16L235.11 1020.16L235.91 1020.16L236.70 1020.16L237.49 1020.16L238.29 1020.16L239.08 1020.16L239.87 1020.16L240.67 1020.16L241.46 1020.16L242.25 1020.16L243.05 1020.15L243.84 1020.15L244.63 1020.15L245.43 1020.15L246.22 1020.15L247.01 1020.15L247.81 1020.15L248.60 1020.15L249.39 1020.15L250.19 1020.15L250.98 1020.15L251.77 1020.15L252.57 1020.15L253.36 1020.15L254.15 1020.15L254.95 1020.15L255.74 1020.15L256.53 1020.15L257.33 1020.15L258.12 1020.15L258.91 1020.38L259.71 1020.65L260.50 1020.92L261.29 1021.20L262.09 1021.47L262.88 1021.74L263.67 1022.01L264.47 1022.28L265.26 1022.54L266.05 1022.81L266.85 1023.08L267.64 1023.34L268.43 1023.61L269.23 1023.87L270.02 1024.13L270.81 1024.39L271.61 1024.66L272.40 1024.92L273.19 1025.18L273.99 1025.43L274.78 1025.69L275.57 1025.95L276.37 1026.21L277.16 1026.46L277.95 1026.72L278.75 1026.97L279.54 1027.22L280.33 1027.48L281.13 1027.73L281.92 1027.98L282.71 1028.23L283.51 1028.48L284.30 1028.73L285.09 1028.98L285.89 1029.23L286.68 1029.47L287.47 1029.72L288.26 1029.97L289.06 1030.21L289.85 1030.45L290.64 1030.70L291.44 1030.94L292.23 1031.18L293.02 1031.43L293.82 1031.67L294.61 1031.91L295.40 1032.15L296.20 1032.39L296.99 1032.63L297.78 1032.86L298.58 1033.10L299.37 1033.34L300.16 1033.57L300.96 1033.81L301.75 1034.04L302.54 1034.28L303.34 1034.51L304.13 1034.75L304.92 1034.98L305.72 1035.21L306.51 1035.44L307.30 1035.67L308.10 1035.90L308.89 1036.13L309.68 1036.36L310.48 1036.59L311.27 1036.82L312.06 1037.05L312.86 1037.28L313.65 1037.50L314.44 1037.73L315.24 1037.96L316.03 1038.18L316.82 1038.41L317.62 1038.63L318.41 1038.85L319.20 1039.08L320.00 1039.30L320.79 1039.52L321.58 1039.74L322.38 1039.96L323.17 1040.18L323.96 1040.40L324.76 1040.62L325.55 1040.84L326.34 1041.06L327.14 1041.28L327.93 1041.50L328.72 1041.72L329.52 1041.93L330.31 1042.15L331.10 1042.37L331.90 1042.58L332.69 1042.80L333.48 1043.01L334.28 1043.22L335.07 1043.44L335.86 1043.65L336.66 1043.86L337.45 1044.08L338.24 1044.29L339.04 1044.50L339.83 1044.71L340.62 1044.92L341.42 1045.13L342.21 1045.34L343.00 1045.55L343.80 1045.76L344.59 1045.97L345.38 1046.18L346.17 1046.39L346.97 1046.59L347.76 1046.80L348.55 1047.01L349.35 1047.21L350.14 1047.42L350.93 1047.63L351.73 1047.83L352.52 1048.03L353.31 1048.24L354.11 1048.44L354.90 1048.65L355.69 1048.85L356.49 1049.05L357.28 1049.25L358.07 1049.46L358.87 1049.66L359.66 1049.86L360.45 1050.06L361.25 1050.26L362.04 1050.46L362.83 1050.66L363.63 1050.86L364.42 1051.06L365.21 1051.26L366.01 1051.46L366.80 1051.66L367.59 1051.85L368.39 1052.05L369.18 1052.25L369.97 1052.44L370.77 1052.64L371.56 1052.84L372.35 1053.03L373.15 1053.23L373.94 1053.42L374.73 1053.62L375.53 1053.81L376.32 1054.00L377.11 1054.20L377.91 1054.39L378.70 1054.58L379.49 1054.78L380.29 1054.97L381.08 1055.16L381.87 1055.35L382.67 1055.55L383.46 1055.74L384.25 1055.93L385.05 1056.12L385.84 1056.31L386.63 1056.50L387.43 1056.69L388.22 1056.88L389.01 1057.06L389.81 1057.25L390.60 1057.44L391.39 1057.63L392.19 1057.82L392.98 1058.00L393.77 1058.19L394.57 1058.38L395.36 1058.57L396.15 1058.75L396.95 1058.94L397.74 1059.12L398.53 1059.31L399.33 1059.49L400.12 1059.68L400.91 1059.86L401.71 1060.05L402.50 1060.23L403.29 1060.41L404.08 1060.60L404.88 1060.78L405.67 1060.96L406.46 1061.15L407.26 1061.33L408.05 1061.51L408.84 1061.69L409.64 1061.87L410.43 1062.06L411.22 1062.24L412.02 1062.42L412.81 1062.60L413.60 1062.78L414.40 1062.96L415.19 1063.14L415.98 1063.32L416.78 1063.50L417.57 1063.67L418.36 1063.85L419.16 1064.03L419.95 1064.21L420.74 1064.39L421.54 1064.56L422.33 1064.74L423.12 1064.92L423.92 1065.10L424.71 1065.27L425.50 1065.45L426.30 1065.62L427.09 1065.80L427.88 1065.98L428.68 1066.15L429.47 1066.33L430.26 1066.50L431.06 1066.68L431.85 1066.85L432.64 1067.02L433.44 1067.20L434.23 1067.37L435.02 1067.55L435.82 1067.72L436.61 1067.89L437.40 1068.06L438.20 1068.24L438.99 1068.41L439.78 1068.58L440.58 1068.75L441.37 1068.92L442.16 1069.10L442.96 1069.27L443.75 1069.44L444.54 1069.61L445.34 1069.78L446.13 1069.95L446.92 1070.12L447.72 1070.29L448.51 1070.46L449.30 1070.63L450.10 1070.80L450.89 1070.97L451.68 1071.13L452.48 1071.30L453.27 1071.47L454.06 1071.64L454.86 1071.81L455.65 1071.97L456.44 1072.14L457.24 1072.31L458.03 1072.48L458.82 1072.64L459.62 1072.81L460.41 1072.98L461.20 1073.14L461.99 1073.31L462.79 1073.47L463.58 1073.64L464.37 1073.80L465.17 1073.97L465.96 1074.13L466.75 1074.30L467.55 1074.46L468.34 1074.63L469.13 1074.79L469.93 1074.96L470.72 1075.12L471.51 1075.28L472.31 1075.45L473.10 1075.61L473.89 1075.77L474.69 1075.93L475.48 1076.10L476.27 1076.26L477.07 1076.42L477.86 1076.58L478.65 1076.75L479.45 1076.91L480.24 1077.07L481.03 1077.23L481.83 1077.39L482.62 1077.55L483.41 1077.71L484.21 1077.87L485.00 1078.03L485.79 1078.19L486.59 1078.35L487.38 1078.51L488.17 1078.67L488.97 1078.83L489.76 1078.99L490.55 1079.15L491.35 1079.31L492.14 1079.47L492.93 1079.62L493.73 1079.78L494.52 1079.94L495.31 1080.10L496.11 1080.26L496.90 1080.41L497.69 1080.57L498.49 1080.73L499.28 1080.89L500.07 1081.04L500.87 1081.20L501.66 1081.36L502.45 1081.51L503.25 1081.67L504.04 1081.82L504.83 1081.98L505.63 1082.14L506.42 1082.29L507.21 1082.45L508.01 1082.60L508.80 1082.76L509.59 1082.91L510.39 1083.07L511.18 1083.22L511.97 1083.37L512.77 1083.53L513.56 1083.68L514.35 1083.84L515.15 1083.99L515.94 1084.14L516.73 1084.30L517.53 1084.63L518.32 1085.15L519.11 1085.67L519.90 1086.19L520.70 1086.71L521.49 1087.23L522.28 1087.75L523.08 1088.27L523.87 1088.79L524.66 1089.31L525.46 1089.83L526.25 1090.35L527.04 1090.87L527.84 1091.40L528.63 1091.92L529.42 1092.44L530.22 1092.96L531.01 1093.49L531.80 1094.01L532.60 1094.53L533.39 1095.06L534.18 1095.58L534.98 1096.10L535.77 1096.63L536.56 1097.15L537.36 1097.68L538.15 1098.20L538.94 1098.73L539.74 1099.25L540.53 1099.78L541.32 1100.30L542.12 1100.83L542.91 1101.35L543.70 1101.88L544.50 1102.41L545.29 1102.93L546.08 1103.46L546.88 1103.99L547.67 1104.51L548.46 1105.04L549.26 1105.57L550.05 1106.10L550.84 1106.63L551.64 1107.15L552.43 1107.68L553.22 1108.21L554.02 1108.74L554.81 1109.27L555.60 1109.80L556.40 1110.33L557.19 1110.86L557.98 1111.39L558.78 1111.92L559.57 1112.45L560.36 1112.98L561.16 1113.51L561.95 1114.04L562.74 1114.58L563.54 1115.11L564.33 1115.64L565.12 1116.17L565.92 1116.71L566.71 1117.24L567.50 1117.77L568.30 1118.30L569.09 1118.84L569.88 1119.37L570.68 1119.90L571.47 1120.44L572.26 1120.97L573.06 1121.51L573.85 1122.04L574.64 1122.58L575.44 1123.11L576.23 1123.65L577.02 1124.18L577.81 1124.72L578.61 1125.26L579.40 1125.79L580.19 1126.33L580.99 1126.87L581.78 1127.40L582.57 1127.94L583.37 1128.48L584.16 1129.01L584.95 1129.55L585.75 1130.09L586.54 1130.63L587.33 1131.17L588.13 1131.71L588.92 1132.25L589.71 1132.78L590.51 1133.32L591.30 1133.86L592.09 1134.40L592.89 1134.94L593.68 1135.49L594.47 1136.03L595.27 1136.57L596.06 1137.11L596.85 1137.65L597.65 1138.19L598.44 1138.73L599.23 1139.28L600.03 1139.82L600.82 1140.36L601.61 1140.90L602.41 1141.45L603.20 1141.99L603.99 1142.53L604.79 1143.08L605.58 1143.62L606.37 1144.16L607.17 1144.71L607.96 1145.25L608.75 1145.80L609.55 1146.34L610.34 1146.89L611.13 1147.44L611.93 1147.98L612.72 1148.53L613.51 1149.07L614.31 1149.62L615.10 1150.17L615.89 1150.71L616.69 1151.26L617.48 1151.81L618.27 1152.36L619.07 1152.90L619.86 1153.45L620.65 1154.00L621.45 1154.55L622.24 1155.10L623.03 1155.65L623.83 1156.20L624.62 1156.75L625.41 1157.30L626.21 1157.85L627.00 1158.40L627.79 1158.95L628.59 1159.50L629.38 1160.05L630.17 1160.60L630.97 1161.15L631.76 1161.71L632.55 1162.26L633.35 1162.81L634.14 1163.36L634.93 1163.92L635.72 1164.47L636.52 1165.02L637.31 1165.58L638.10 1166.13L638.90 1166.68L639.69 1167.24L640.48 1167.79L641.28 1168.35L642.07 1168.90L642.86 1169.46L643.66 1170.01L644.45 1170.57L645.24 1171.13L646.04 1171.68L646.83 1172.24L647.62 1172.80L648.42 1173.35L649.21 1173.91L650.00 1174.47L650.80 1175.02L651.59 1175.58L652.38 1176.14L653.18 1176.70L653.97 1177.26L654.76 1177.82L655.56 1178.38L656.35 1178.94L657.14 1179.50L657.94 1180.06L658.73 1180.62L659.52 1181.18L660.32 1181.74L661.11 1182.30L661.90 1182.86L662.70 1183.42L663.49 1183.98L664.28 1184.55L665.08 1185.11L665.87 1185.67L666.66 1186.23L667.46 1186.80L668.25 1187.36L669.04 1187.92L669.84 1188.49L670.63 1189.05L671.42 1189.61L672.22 1190.18L673.01 1190.74L673.80 1191.31L674.60 1191.87L675.39 1192.44L676.18 1193.01L676.98 1193.57L677.77 1194.14L678.56 1194.70L679.36 1195.27L680.15 1195.84L680.94 1196.41L681.74 1196.97L682.53 1197.54L683.32 1198.11L684.12 1198.68L684.91 1199.25L685.70 1199.82L686.50 1200.38L687.29 1200.95L688.08 1201.52L688.88 1202.09L689.67 1202.66L690.46 1203.23L691.26 1203.80L692.05 1204.38L692.84 1204.95L693.63 1205.52L694.43 1206.09L695.22 1206.66L696.01 1207.23L696.81 1207.81L697.60 1208.38L698.39 1208.95L699.19 1209.53L699.98 1210.10L700.77 1210.67L701.57 1211.25L702.36 1211.82L703.15 1212.40L703.95 1212.97L704.74 1213.55L705.53 1214.12L706.33 1214.70L707.12 1215.27L707.91 1215.85L708.71 1216.43L709.50 1217.00L710.29 1217.58L711.09 1218.16L711.88 1218.73L712.67 1219.31L713.47 1219.89L714.26 1220.47L715.05 1221.05L715.85 1221.62L716.64 1222.20L717.43 1222.78L718.23 1223.36L719.02 1223.94L719.81 1224.52L720.61 1225.10L721.40 1225.68L722.19 1226.26L722.99 1226.85L723.78 1227.43L724.57 1228.01L725.37 1228.59L726.16 1229.17L726.95 1229.76L727.75 1230.34L728.54 1230.92L729.33 1231.50L730.13 1232.09L730.92 1232.67L731.71 1233.26L732.51 1233.84L733.30 1234.43L734.09 1235.01L734.89 1235.60L735.68 1236.18L736.47 1236.77L737.27 1237.35L738.06 1237.94L738.85 1238.53L739.65 1239.11L740.44 1239.70L741.23 1240.29L742.03 1240.87L742.82 1241.46L743.61 1242.05L744.41 1242.64L745.20 1243.23L745.99 1243.82L746.79 1244.41L747.58 1245.00L748.37 1245.59L749.17 1246.18L749.96 1246.77L750.75 1247.36L751.54 1247.95L752.34 1248.54L753.13 1249.13L753.92 1249.72L754.72 1250.31L755.51 1250.91L756.30 1251.50L757.10 1252.09L757.89 1252.68L758.68 1253.28L759.48 1253.87L760.27 1254.47L761.06 1255.06L761.86 1255.65L762.65 1256.25L763.44 1256.84L764.24 1257.44L765.03 1258.03L765.82 1258.63L766.62 1259.23L767.41 1259.82L768.20 1260.42L769.00 1261.02L769.79 1261.61L770.58 1262.21L771.38 1262.81L772.17 1263.41L772.96 1264.01L773.76 1264.60L774.55 1265.20L775.34 1265.80L776.14 1266.40L776.93 1267.00L777.72 1267.60L778.52 1268.20L779.31 1268.80L780.10 1269.40L780.90 1270.01L781.69 1270.61L782.48 1271.21L783.28 1271.81L784.07 1272.41L784.86 1273.02L785.66 1273.62L786.45 1274.22L787.24 1274.82L788.04 1275.43L788.83 1276.03L789.62 1276.64L790.42 1277.24L791.21 1277.85L792.00 1278.45L792.80 1279.06L793.59 1279.66L794.38 1280.27L795.18 1280.87L795.97 1281.48L796.76 1282.09L797.56 1282.70L798.35 1283.30L799.14 1283.91L799.94 1284.52L800.73 1285.13L801.52 1285.74L802.32 1286.34L803.11 1286.95L803.90 1287.56L804.70 1288.17L805.49 1288.78L806.28 1289.39L807.08 1290.00L807.87 1290.61L808.66 1291.23L809.45 1291.84L810.25 1292.45L811.04 1293.06L811.83 1293.67L812.63 1294.29L813.42 1294.90L814.21 1295.51L815.01 1296.13L815.80 1296.74L816.59 1297.35L817.39 1297.97L818.18 1298.58L818.97 1299.20L819.77 1299.81L820.56 1300.43L821.35 1301.04L822.15 1301.66L822.94 1302.28L823.73 1302.89L824.53 1303.51L825.32 1304.13L826.11 1304.75L826.91 1305.36L827.70 1305.98L828.49 1306.60L829.29 1307.22L830.08 1307.84L830.87 1308.46L831.67 1309.08L832.46 1309.70L833.25 1310.32L834.05 1310.94L834.84 1311.56L835.63 1312.18L836.43 1312.80L837.22 1313.42L838.01 1314.04L838.81 1314.67L839.60 1315.29L840.39 1315.91L841.19 1316.54L841.98 1317.16L842.77 1317.78L843.57 1318.41L844.36 1319.03L845.15 1319.66L845.95 1320.28L846.74 1320.91L847.53 1321.53L848.33 1322.16L849.12 1322.78L849.91 1323.41L850.71 1324.04L851.50 1324.66L852.29 1325.29L853.09 1325.92L853.88 1326.55L854.67 1327.18L855.47 1327.80L856.26 1328.43L857.05 1329.06L857.85 1329.69L858.64 1330.32L859.43 1330.95L860.23 1331.58L861.02 1332.21L861.81 1332.84L862.61 1333.48L863.40 1334.11L864.19 1334.74L864.99 1335.37L865.78 1336.00L866.57 1336.64L867.36 1337.27L868.16 1337.90L868.95 1338.54L869.74 1339.17L870.54 1339.80L871.33 1340.44L872.12 1341.07L872.92 1341.71L873.71 1342.35L874.50 1342.98L875.30 1343.62L876.09 1344.25L876.88 1344.89L877.68 1345.53L878.47 1346.17L879.26 1346.80L880.06 1347.44L880.85 1348.08L881.64 1348.72L882.44 1349.36L883.23 1350.00L884.02 1350.64L884.82 1351.28L885.61 1351.92L886.40 1352.56L887.20 1353.20L887.99 1353.84L888.78 1354.48L889.58 1355.12L890.37 1355.76L891.16 1356.41L891.96 1357.05L892.75 1357.69L893.54 1358.34L894.34 1358.98L895.13 1359.62L895.92 1360.27L896.72 1360.91L897.51 1361.56L898.30 1362.20L899.10 1362.85L899.89 1363.49L900.68 1364.14L901.48 1364.79L902.27 1365.43L903.06 1366.08L903.86 1366.73L904.65 1367.37L905.44 1368.02L906.24 1368.67L907.03 1369.32L907.82 1369.97L908.62 1370.62L909.41 1371.27L910.20 1371.92L911.00 1372.57L911.79 1373.22L912.58 1373.87L913.38 1374.52L914.17 1375.17L914.96 1375.82L915.76 1376.47L916.55 1377.13L917.34 1377.78L918.14 1378.43L918.93 1379.09L919.72 1379.74L920.52 1380.39L921.31 1381.05L922.10 1381.70L922.90 1382.36L923.69 1383.01L924.48 1383.67L925.27 1384.32L926.07 1384.98L926.86 1385.64L927.65 1386.29L928.45 1386.95L929.24 1387.61L930.03 1388.27L930.83 1388.93L931.62 1389.58L932.41 1390.24L933.21 1390.90L934.00 1391.56L934.79 1392.22" stroke="#000" stroke-linecap="butt" stroke-dasharray="16.92 7.32"/>
</g>
<g stroke="#000" stroke-linecap="butt"><line x1="142.35" y1="634.70" x2="142.35" y2="650.50" stroke-width="3.30"/><line x1="163.16" y1="634.70" x2="163.16" y2="643.70" stroke-width="2.40"/><line x1="183.97" y1="634.70" x2="183.97" y2="643.70" stroke-width="2.40"/><line x1="204.78" y1="634.70" x2="204.78" y2="643.70" stroke-width="2.40"/><line x1="225.59" y1="634.70" x2="225.59" y2="643.70" stroke-width="2.40"/><line x1="246.41" y1="634.70" x2="246.41" y2="650.50" stroke-width="3.30"/><line x1="267.22" y1="634.70" x2="267.22" y2="643.70" stroke-width="2.40"/><line x1="288.03" y1="634.70" x2="288.03" y2="643.70" stroke-width="2.40"/><line x1="308.84" y1="634.70" x2="308.84" y2="643.70" stroke-width="2.40"/><line x1="329.65" y1="634.70" x2="329.65" y2="643.70" stroke-width="2.40"/><line x1="350.46" y1="634.70" x2="350.46" y2="650.50" stroke-width="3.30"/><line x1="371.27" y1="634.70" x2="371.27" y2="643.70" stroke-width="2.40"/><line x1="392.08" y1="634.70" x2="392.08" y2="643.70" stroke-width="2.40"/><line x1="412.90" y1="634.70" x2="412.90" y2="643.70" stroke-width="2.40"/><line x1="433.71" y1="634.70" x2="433.71" y2="643.70" stroke-width="2.40"/><line x1="454.52" y1="634.70" x2="454.52" y2="650.50" stroke-width="3.30"/><line x1="475.33" y1="634.70" x2="475.33" y2="643.70" stroke-width="2.40"/><line x1="496.14" y1="634.70" x2="496.14" y2="643.70" stroke-width="2.40"/><line x1="516.95" y1="634.70" x2="516.95" y2="643.70" stroke-width="2.40"/><line x1="537.76" y1="634.70" x2="537.76" y2="643.70" stroke-width="2.40"/><line x1="558.58" y1="634.70" x2="558.58" y2="650.50" stroke-width="3.30"/><line x1="579.39" y1="634.70" x2="579.39" y2="643.70" stroke-width="2.40"/><line x1="600.20" y1="634.70" x2="600.20" y2="643.70" stroke-width="2.40"/><line x1="621.01" y1="634.70" x2="621.01" y2="643.70" stroke-width="2.40"/><line x1="641.82" y1="634.70" x2="641.82" y2="643.70" stroke-width="2.40"/><line x1="662.63" y1="634.70" x2="662.63" y2="650.50" stroke-width="3.30"/><line x1="683.44" y1="634.70" x2="683.44" y2="643.70" stroke-width="2.40"/><line x1="704.25" y1="634.70" x2="704.25" y2="643.70" stroke-width="2.40"/><line x1="725.06" y1="634.70" x2="725.06" y2="643.70" stroke-width="2.40"/><line x1="745.88" y1="634.70" x2="745.88" y2="643.70" stroke-width="2.40"/><line x1="766.69" y1="634.70" x2="766.69" y2="650.50" stroke-width="3.30"/><line x1="787.50" y1="634.70" x2="787.50" y2="643.70" stroke-width="2.40"/><line x1="808.31" y1="634.70" x2="808.31" y2="643.70" stroke-width="2.40"/><line x1="829.12" y1="634.70" x2="829.12" y2="643.70" stroke-width="2.40"/><line x1="849.93" y1="634.70" x2="849.93" y2="643.70" stroke-width="2.40"/><line x1="870.74" y1="634.70" x2="870.74" y2="650.50" stroke-width="3.30"/><line x1="891.56" y1="634.70" x2="891.56" y2="643.70" stroke-width="2.40"/><line x1="912.37" y1="634.70" x2="912.37" y2="643.70" stroke-width="2.40"/><line x1="933.18" y1="634.70" x2="933.18" y2="643.70" stroke-width="2.40"/><line x1="953.99" y1="634.70" x2="953.99" y2="643.70" stroke-width="2.40"/><line x1="974.80" y1="634.70" x2="974.80" y2="650.50" stroke-width="3.30"/><line x1="126.55" y1="634.70" x2="142.35" y2="634.70" stroke-width="3.30"/><line x1="133.35" y1="605.37" x2="142.35" y2="605.37" stroke-width="2.40"/><line x1="133.35" y1="576.03" x2="142.35" y2="576.03" stroke-width="2.40"/><line x1="133.35" y1="546.70" x2="142.35" y2="546.70" stroke-width="2.40"/><line x1="126.55" y1="517.36" x2="142.35" y2="517.36" stroke-width="3.30"/><line x1="133.35" y1="488.03" x2="142.35" y2="488.03" stroke-width="2.40"/><line x1="133.35" y1="458.69" x2="142.35" y2="458.69" stroke-width="2.40"/><line x1="133.35" y1="429.36" x2="142.35" y2="429.36" stroke-width="2.40"/><line x1="126.55" y1="400.02" x2="142.35" y2="400.02" stroke-width="3.30"/><line x1="133.35" y1="370.69" x2="142.35" y2="370.69" stroke-width="2.40"/><line x1="133.35" y1="341.35" x2="142.35" y2="341.35" stroke-width="2.40"/><line x1="133.35" y1="312.01" x2="142.35" y2="312.01" stroke-width="2.40"/><line x1="126.55" y1="282.68" x2="142.35" y2="282.68" stroke-width="3.30"/><line x1="133.35" y1="253.35" x2="142.35" y2="253.35" stroke-width="2.40"/><line x1="133.35" y1="224.01" x2="142.35" y2="224.01" stroke-width="2.40"/><line x1="133.35" y1="194.68" x2="142.35" y2="194.68" stroke-width="2.40"/><line x1="126.55" y1="165.34" x2="142.35" y2="165.34" stroke-width="3.30"/><line x1="133.35" y1="136.00" x2="142.35" y2="136.00" stroke-width="2.40"/><line x1="133.35" y1="106.67" x2="142.35" y2="106.67" stroke-width="2.40"/><line x1="133.35" y1="77.33" x2="142.35" y2="77.33" stroke-width="2.40"/><line x1="126.55" y1="48.00" x2="142.35" y2="48.00" stroke-width="3.30"/><line x1="142.30" y1="1419.10" x2="142.30" y2="1434.90" stroke-width="3.30"/><line x1="178.49" y1="1419.10" x2="178.49" y2="1428.10" stroke-width="2.40"/><line x1="214.67" y1="1419.10" x2="214.67" y2="1428.10" stroke-width="2.40"/><line x1="250.86" y1="1419.10" x2="250.86" y2="1428.10" stroke-width="2.40"/><line x1="287.05" y1="1419.10" x2="287.05" y2="1434.90" stroke-width="3.30"/><line x1="323.23" y1="1419.10" x2="323.23" y2="1428.10" stroke-width="2.40"/><line x1="359.42" y1="1419.10" x2="359.42" y2="1428.10" stroke-width="2.40"/><line x1="395.61" y1="1419.10" x2="395.61" y2="1428.10" stroke-width="2.40"/><line x1="431.80" y1="1419.10" x2="431.80" y2="1434.90" stroke-width="3.30"/><line x1="467.98" y1="1419.10" x2="467.98" y2="1428.10" stroke-width="2.40"/><line x1="504.17" y1="1419.10" x2="504.17" y2="1428.10" stroke-width="2.40"/><line x1="540.36" y1="1419.10" x2="540.36" y2="1428.10" stroke-width="2.40"/><line x1="576.54" y1="1419.10" x2="576.54" y2="1434.90" stroke-width="3.30"/><line x1="612.73" y1="1419.10" x2="612.73" y2="1428.10" stroke-width="2.40"/><line x1="648.92" y1="1419.10" x2="648.92" y2="1428.10" stroke-width="2.40"/><line x1="685.10" y1="1419.10" x2="685.10" y2="1428.10" stroke-width="2.40"/><line x1="721.29" y1="1419.10" x2="721.29" y2="1434.90" stroke-width="3.30"/><line x1="757.48" y1="1419.10" x2="757.48" y2="1428.10" stroke-width="2.40"/><line x1="793.67" y1="1419.10" x2="793.67" y2="1428.10" stroke-width="2.40"/><line x1="829.85" y1="1419.10" x2="829.85" y2="1428.10" stroke-width="2.40"/><line x1="866.04" y1="1419.10" x2="866.04" y2="1434.90" stroke-width="3.30"/><line x1="902.23" y1="1419.10" x2="902.23" y2="1428.10" stroke-width="2.40"/><line x1="938.41" y1="1419.10" x2="938.41" y2="1428.10" stroke-width="2.40"/><line x1="974.60" y1="1419.10" x2="974.60" y2="1428.10" stroke-width="2.40"/><line x1="133.30" y1="1402.50" x2="142.30" y2="1402.50" stroke-width="2.40"/><line x1="133.30" y1="1382.37" x2="142.30" y2="1382.37" stroke-width="2.40"/><line x1="126.50" y1="1362.25" x2="142.30" y2="1362.25" stroke-width="3.30"/><line x1="133.30" y1="1342.13" x2="142.30" y2="1342.13" stroke-width="2.40"/><line x1="133.30" y1="1322.00" x2="142.30" y2="1322.00" stroke-width="2.40"/><line x1="133.30" y1="1301.88" x2="142.30" y2="1301.88" stroke-width="2.40"/><line x1="133.30" y1="1281.76" x2="142.30" y2="1281.76" stroke-width="2.40"/><line x1="126.50" y1="1261.63" x2="142.30" y2="1261.63" stroke-width="3.30"/><line x1="133.30" y1="1241.51" x2="142.30" y2="1241.51" stroke-width="2.40"/><line x1="133.30" y1="1221.39" x2="142.30" y2="1221.39" stroke-width="2.40"/><line x1="133.30" y1="1201.26" x2="142.30" y2="1201.26" stroke-width="2.40"/><line x1="133.30" y1="1181.14" x2="142.30" y2="1181.14" stroke-width="2.40"/><line x1="126.50" y1="1161.02" x2="142.30" y2="1161.02" stroke-width="3.30"/><line x1="133.30" y1="1140.89" x2="142.30" y2="1140.89" stroke-width="2.40"/><line x1="133.30" y1="1120.77" x2="142.30" y2="1120.77" stroke-width="2.40"/><line x1="133.30" y1="1100.65" x2="142.30" y2="1100.65" stroke-width="2.40"/><line x1="133.30" y1="1080.52" x2="142.30" y2="1080.52" stroke-width="2.40"/><line x1="126.50" y1="1060.40" x2="142.30" y2="1060.40" stroke-width="3.30"/><line x1="133.30" y1="1040.28" x2="142.30" y2="1040.28" stroke-width="2.40"/><line x1="133.30" y1="1020.15" x2="142.30" y2="1020.15" stroke-width="2.40"/><line x1="133.30" y1="1000.03" x2="142.30" y2="1000.03" stroke-width="2.40"/><line x1="133.30" y1="979.90" x2="142.30" y2="979.90" stroke-width="2.40"/><line x1="126.50" y1="959.78" x2="142.30" y2="959.78" stroke-width="3.30"/><line x1="133.30" y1="939.66" x2="142.30" y2="939.66" stroke-width="2.40"/><line x1="133.30" y1="919.53" x2="142.30" y2="919.53" stroke-width="2.40"/><line x1="133.30" y1="899.41" x2="142.30" y2="899.41" stroke-width="2.40"/><line x1="133.30" y1="879.29" x2="142.30" y2="879.29" stroke-width="2.40"/><line x1="126.50" y1="859.16" x2="142.30" y2="859.16" stroke-width="3.30"/><line x1="133.30" y1="839.04" x2="142.30" y2="839.04" stroke-width="2.40"/></g>
<rect x="142.35" y="48.00" width="832.45" height="586.70" fill="none" stroke="#000" stroke-width="3.30" stroke-linejoin="miter"/>
<rect x="142.30" y="832.50" width="832.30" height="586.60" fill="none" stroke="#000" stroke-width="3.30" stroke-linejoin="miter"/>
<g font-size="32"><text transform="translate(142.35 689.30) scale(1 1.040)" text-anchor="middle">0</text><text transform="translate(246.41 689.30) scale(1 1.040)" text-anchor="middle">50</text><text transform="translate(350.46 689.30) scale(1 1.040)" text-anchor="middle">100</text><text transform="translate(454.52 689.30) scale(1 1.040)" text-anchor="middle">150</text><text transform="translate(558.58 689.30) scale(1 1.040)" text-anchor="middle">200</text><text transform="translate(662.63 689.30) scale(1 1.040)" text-anchor="middle">250</text><text transform="translate(766.69 689.30) scale(1 1.040)" text-anchor="middle">300</text><text transform="translate(870.74 689.30) scale(1 1.040)" text-anchor="middle">350</text><text transform="translate(974.80 689.30) scale(1 1.040)" text-anchor="middle">400</text><text transform="translate(110.40 646.20) scale(1 1.040)" text-anchor="end">0</text><text transform="translate(110.40 528.86) scale(1 1.040)" text-anchor="end">20</text><text transform="translate(110.40 411.52) scale(1 1.040)" text-anchor="end">40</text><text transform="translate(110.40 294.18) scale(1 1.040)" text-anchor="end">60</text><text transform="translate(110.40 176.84) scale(1 1.040)" text-anchor="end">80</text><text transform="translate(110.40 59.50) scale(1 1.040)" text-anchor="end">100</text><text transform="translate(142.30 1474.20) scale(1 1.040)" text-anchor="middle">0</text><text transform="translate(287.05 1474.20) scale(1 1.040)" text-anchor="middle">2</text><text transform="translate(431.80 1474.20) scale(1 1.040)" text-anchor="middle">4</text><text transform="translate(576.54 1474.20) scale(1 1.040)" text-anchor="middle">6</text><text transform="translate(721.29 1474.20) scale(1 1.040)" text-anchor="middle">8</text><text transform="translate(866.04 1474.20) scale(1 1.040)" text-anchor="middle">10</text><text transform="translate(110.40 1373.75) scale(1 1.040)" text-anchor="end">0.85</text><text transform="translate(110.40 1273.13) scale(1 1.040)" text-anchor="end">0.90</text><text transform="translate(110.40 1172.52) scale(1 1.040)" text-anchor="end">0.95</text><text transform="translate(110.40 1071.90) scale(1 1.040)" text-anchor="end">1.00</text><text transform="translate(110.40 971.28) scale(1 1.040)" text-anchor="end">1.05</text><text transform="translate(110.40 870.66) scale(1 1.040)" text-anchor="end">1.10</text><text transform="translate(558.60 737.50) scale(1 1.040)" text-anchor="middle">Cycle number</text><text transform="translate(558.50 1522.20) scale(1 1.040)" text-anchor="middle">Time (arbitrary)</text><text transform="translate(32.10 341.30) rotate(-90) scale(1 1.040)" text-anchor="middle">Degradation or capacity loss (%)</text><text transform="translate(22.90 1125.90) rotate(-90) scale(1 1.040)" text-anchor="middle">Relative capacity</text><text x="142" y="20.8" font-weight="bold" font-size="38.5">a</text><text x="142.3" y="805.9" font-weight="bold" font-size="38.5">b</text><text transform="translate(170.50 280.60) scale(1 1.040)">Dubarry et al.</text><text transform="translate(261.00 326.80) scale(1 1.040)">Loss of lithium inventory</text><text transform="translate(261.00 372.40) scale(1 1.040)">Loss of delithiated cathode active material</text><text transform="translate(261.00 418.00) scale(1 1.040)">Calculated capacity loss</text></g>
<g stroke-width="4.57" fill="none"><line x1="171" y1="315.3" x2="235.4" y2="315.3" stroke="#1f77b4" stroke-dasharray="16.92 7.32"/><line x1="171" y1="361.2" x2="235.4" y2="361.2" stroke="#d62728" stroke-dasharray="4.57 7.55"/><line x1="171" y1="406.5" x2="235.4" y2="406.5" stroke="#000" stroke-linecap="square"/><line x1="171" y1="1180.2" x2="235.4" y2="1180.2" stroke="#9467bd" stroke-linecap="square"/><line x1="171" y1="1237.4" x2="235.4" y2="1237.4" stroke="#1f77b4" stroke-linecap="square"/><line x1="171" y1="1299.25" x2="235.4" y2="1299.25" stroke="#2ca02c" stroke-linecap="square"/><line x1="171" y1="1360.85" x2="235.4" y2="1360.85" stroke="#000" stroke-dasharray="16.92 7.32"/></g>
<g font-size="32"><text transform="translate(170.80 1141.90) scale(1 1.040)">Smith et al.</text><text transform="translate(261.00 1187.40) scale(1 1.040)">Lithium inventory, <tspan font-style="italic" dx="3.8">Q</tspan><tspan font-size="22.4" font-style="italic" dy="8.17" dx="-0.8">Li</tspan></text><text transform="translate(261.00 1245.00) scale(1 1.040)">Negative electrode capacity, <tspan font-style="italic" dx="3.8">Q</tspan><tspan font-size="22.4" font-style="italic" dy="8.17" dx="-0.8">neg</tspan></text><text transform="translate(261.00 1306.30) scale(1 1.040)">Positive electrode capacity, <tspan font-style="italic" dx="3.8">Q</tspan><tspan font-size="22.4" font-style="italic" dy="8.17" dx="-0.8">pos</tspan></text><text transform="translate(261.00 1368.20) scale(1 1.040)">Cell capacity = min(<tspan font-style="italic" dx="0">Q</tspan><tspan font-size="22.4" font-style="italic" dy="8.17" dx="-1.5">Li</tspan><tspan dy="-8.17">, </tspan><tspan font-style="italic" dx="3">Q</tspan><tspan font-size="22.4" font-style="italic" dy="8.17" dx="0">neg</tspan><tspan dy="-8.17">, </tspan><tspan font-style="italic" dx="2">Q</tspan><tspan font-size="22.4" font-style="italic" dy="8.17" dx="0">pos</tspan><tspan dy="-8.17" dx="-1">)</tspan></text></g>
</svg></body></html>
